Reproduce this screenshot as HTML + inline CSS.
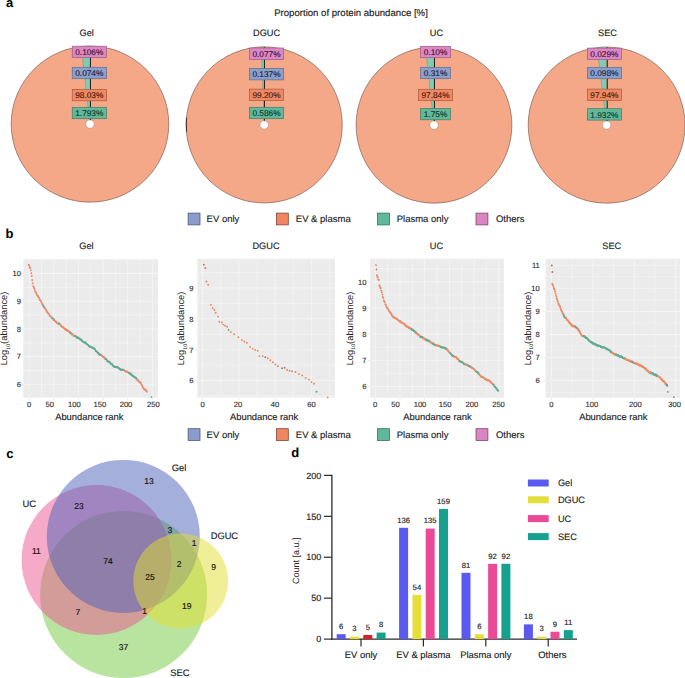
<!DOCTYPE html>
<html><head><meta charset="utf-8"><style>
html,body{margin:0;padding:0;background:#fff;}
svg{display:block;font-family:"Liberation Sans", sans-serif;text-rendering:geometricPrecision;}
</style></head><body>
<svg width="685" height="678" viewBox="0 0 685 678">
<rect width="685" height="678" fill="#fff"/>
<text x="6.00" y="7.40" font-size="13" text-anchor="start" font-weight="bold" fill="#000" >a</text>
<text x="351.00" y="15.70" font-size="9.6" text-anchor="middle" font-weight="normal" fill="#222"  stroke="#222" stroke-width="0.15">Proportion of protein abundance [%]</text>
<text x="86.70" y="36.00" font-size="9.2" text-anchor="middle" font-weight="normal" fill="#222"  stroke="#222" stroke-width="0.15">Gel</text>
<ellipse cx="90.0" cy="124.1" rx="78.8" ry="78.05" fill="#F5A887" stroke="#6a5048" stroke-width="0.6"/>
<path d="M90.0,124.1 L90.0,46.05 A78.8,78.05 0 0 0 81.14,46.54 Z" fill="#7FCDB0" stroke="#3d5a50" stroke-width="0.35" stroke-opacity="0.7"/>
<line x1="90.5" y1="124.1" x2="90.5" y2="46.349999999999994" stroke="#1e1e1e" stroke-width="0.95"/>
<rect x="72.24" y="46.20" width="34.13" height="11.4" fill="#DC88C2" stroke="#9A5A88" stroke-width="0.7"/>
<text x="89.30" y="55.00" font-size="8.3" text-anchor="middle" font-weight="normal" fill="#4A1038" stroke="#4A1038" stroke-width="0.15">0.106%</text>
<rect x="72.24" y="67.30" width="34.13" height="11.4" fill="#8C9FCB" stroke="#5F6C8C" stroke-width="0.7"/>
<text x="89.30" y="76.10" font-size="8.3" text-anchor="middle" font-weight="normal" fill="#1C2442" stroke="#1C2442" stroke-width="0.15">0.074%</text>
<rect x="72.24" y="89.40" width="34.13" height="11.4" fill="#EE8964" stroke="#A8583E" stroke-width="0.7"/>
<text x="89.30" y="98.20" font-size="8.3" text-anchor="middle" font-weight="normal" fill="#4A1A0E" stroke="#4A1A0E" stroke-width="0.15">98.03%</text>
<rect x="72.24" y="107.30" width="34.13" height="11.4" fill="#62B99A" stroke="#3F7D66" stroke-width="0.7"/>
<text x="89.30" y="116.10" font-size="8.3" text-anchor="middle" font-weight="normal" fill="#0E3A2A" stroke="#0E3A2A" stroke-width="0.15">1.793%</text>
<circle cx="90.0" cy="124.1" r="4.2" fill="#fff" stroke="#8a7a76" stroke-width="0.4"/>
<text x="266.60" y="36.00" font-size="9.2" text-anchor="middle" font-weight="normal" fill="#222"  stroke="#222" stroke-width="0.15">DGUC</text>
<ellipse cx="264.2" cy="124.9" rx="78.1" ry="78.05" fill="#F5A887" stroke="#6a5048" stroke-width="0.6"/>
<path d="M264.2,124.9 L264.2,46.85000000000001 A78.1,78.05 0 0 0 261.33,46.90 Z" fill="#7FCDB0" stroke="#3d5a50" stroke-width="0.35" stroke-opacity="0.7"/>
<line x1="264.5" y1="124.9" x2="264.5" y2="47.150000000000006" stroke="#1e1e1e" stroke-width="0.95"/>
<rect x="249.44" y="48.00" width="34.13" height="11.4" fill="#DC88C2" stroke="#9A5A88" stroke-width="0.7"/>
<text x="266.50" y="56.80" font-size="8.3" text-anchor="middle" font-weight="normal" fill="#4A1038" stroke="#4A1038" stroke-width="0.15">0.077%</text>
<rect x="249.44" y="68.50" width="34.13" height="11.4" fill="#8C9FCB" stroke="#5F6C8C" stroke-width="0.7"/>
<text x="266.50" y="77.30" font-size="8.3" text-anchor="middle" font-weight="normal" fill="#1C2442" stroke="#1C2442" stroke-width="0.15">0.137%</text>
<rect x="249.44" y="89.10" width="34.13" height="11.4" fill="#EE8964" stroke="#A8583E" stroke-width="0.7"/>
<text x="266.50" y="97.90" font-size="8.3" text-anchor="middle" font-weight="normal" fill="#4A1A0E" stroke="#4A1A0E" stroke-width="0.15">99.20%</text>
<rect x="249.44" y="107.30" width="34.13" height="11.4" fill="#62B99A" stroke="#3F7D66" stroke-width="0.7"/>
<text x="266.50" y="116.10" font-size="8.3" text-anchor="middle" font-weight="normal" fill="#0E3A2A" stroke="#0E3A2A" stroke-width="0.15">0.586%</text>
<circle cx="264.2" cy="124.9" r="4.2" fill="#fff" stroke="#8a7a76" stroke-width="0.4"/>
<text x="436.50" y="36.00" font-size="9.2" text-anchor="middle" font-weight="normal" fill="#222"  stroke="#222" stroke-width="0.15">UC</text>
<ellipse cx="434.0" cy="125.1" rx="77.9" ry="78.05" fill="#F5A887" stroke="#6a5048" stroke-width="0.6"/>
<path d="M434.0,125.1 L434.0,47.05 A77.9,78.05 0 0 0 425.45,47.52 Z" fill="#7FCDB0" stroke="#3d5a50" stroke-width="0.35" stroke-opacity="0.7"/>
<line x1="434.5" y1="125.1" x2="434.5" y2="47.349999999999994" stroke="#1e1e1e" stroke-width="0.95"/>
<rect x="420.66" y="46.30" width="29.68" height="11.4" fill="#DC88C2" stroke="#9A5A88" stroke-width="0.7"/>
<text x="435.50" y="55.10" font-size="8.3" text-anchor="middle" font-weight="normal" fill="#4A1038" stroke="#4A1038" stroke-width="0.15">0.10%</text>
<rect x="420.66" y="67.30" width="29.68" height="11.4" fill="#8C9FCB" stroke="#5F6C8C" stroke-width="0.7"/>
<text x="435.50" y="76.10" font-size="8.3" text-anchor="middle" font-weight="normal" fill="#1C2442" stroke="#1C2442" stroke-width="0.15">0.31%</text>
<rect x="418.44" y="89.30" width="34.13" height="11.4" fill="#EE8964" stroke="#A8583E" stroke-width="0.7"/>
<text x="435.50" y="98.10" font-size="8.3" text-anchor="middle" font-weight="normal" fill="#4A1A0E" stroke="#4A1A0E" stroke-width="0.15">97.84%</text>
<rect x="420.66" y="108.40" width="29.68" height="11.4" fill="#62B99A" stroke="#3F7D66" stroke-width="0.7"/>
<text x="435.50" y="117.20" font-size="8.3" text-anchor="middle" font-weight="normal" fill="#0E3A2A" stroke="#0E3A2A" stroke-width="0.15">1.75%</text>
<circle cx="434.0" cy="125.1" r="4.2" fill="#fff" stroke="#8a7a76" stroke-width="0.4"/>
<text x="607.50" y="36.00" font-size="9.2" text-anchor="middle" font-weight="normal" fill="#222"  stroke="#222" stroke-width="0.15">SEC</text>
<ellipse cx="606.6" cy="125.1" rx="78.4" ry="78.05" fill="#F5A887" stroke="#6a5048" stroke-width="0.6"/>
<path d="M606.6,125.1 L606.6,47.05 A78.4,78.05 0 0 0 597.11,47.62 Z" fill="#7FCDB0" stroke="#3d5a50" stroke-width="0.35" stroke-opacity="0.7"/>
<line x1="607.3" y1="125.1" x2="607.3" y2="47.349999999999994" stroke="#1e1e1e" stroke-width="0.95"/>
<rect x="587.34" y="48.10" width="34.13" height="11.4" fill="#DC88C2" stroke="#9A5A88" stroke-width="0.7"/>
<text x="604.40" y="56.90" font-size="8.3" text-anchor="middle" font-weight="normal" fill="#4A1038" stroke="#4A1038" stroke-width="0.15">0.029%</text>
<rect x="587.34" y="67.30" width="34.13" height="11.4" fill="#8C9FCB" stroke="#5F6C8C" stroke-width="0.7"/>
<text x="604.40" y="76.10" font-size="8.3" text-anchor="middle" font-weight="normal" fill="#1C2442" stroke="#1C2442" stroke-width="0.15">0.098%</text>
<rect x="587.34" y="89.10" width="34.13" height="11.4" fill="#EE8964" stroke="#A8583E" stroke-width="0.7"/>
<text x="604.40" y="97.90" font-size="8.3" text-anchor="middle" font-weight="normal" fill="#4A1A0E" stroke="#4A1A0E" stroke-width="0.15">97.94%</text>
<rect x="587.34" y="108.70" width="34.13" height="11.4" fill="#62B99A" stroke="#3F7D66" stroke-width="0.7"/>
<text x="604.40" y="117.50" font-size="8.3" text-anchor="middle" font-weight="normal" fill="#0E3A2A" stroke="#0E3A2A" stroke-width="0.15">1.932%</text>
<circle cx="606.6" cy="125.1" r="4.2" fill="#fff" stroke="#8a7a76" stroke-width="0.4"/>
<path d="M186.6,117.6 Q186.1,124.6 186.6,131.7" stroke="#4a2a22" stroke-width="1" fill="none"/>
<rect x="188.1" y="213.10000000000002" width="11.9" height="11.8" fill="#8A9CCB" stroke="#4b5570" stroke-width="0.75"/>
<text x="206.60" y="222.30" font-size="9.5" text-anchor="start" font-weight="normal" fill="#222"  stroke="#222" stroke-width="0.15">EV only</text>
<rect x="276.4" y="213.10000000000002" width="11.9" height="11.8" fill="#EE8660" stroke="#7a4030" stroke-width="0.75"/>
<text x="295.80" y="222.30" font-size="9.5" text-anchor="start" font-weight="normal" fill="#222"  stroke="#222" stroke-width="0.15">EV &amp; plasma</text>
<rect x="377.5" y="213.10000000000002" width="11.9" height="11.8" fill="#5FB999" stroke="#2f6a55" stroke-width="0.75"/>
<text x="396.70" y="222.30" font-size="9.5" text-anchor="start" font-weight="normal" fill="#222"  stroke="#222" stroke-width="0.15">Plasma only</text>
<rect x="476.0" y="213.10000000000002" width="11.9" height="11.8" fill="#D887C0" stroke="#7a4068" stroke-width="0.75"/>
<text x="495.90" y="222.30" font-size="9.5" text-anchor="start" font-weight="normal" fill="#222"  stroke="#222" stroke-width="0.15">Others</text>
<text x="5.40" y="237.60" font-size="13" text-anchor="start" font-weight="bold" fill="#000" >b</text>
<rect x="23.3" y="258.9" width="134.70" height="138.80" fill="#EBEBEB"/>
<line x1="41.51" y1="258.9" x2="41.51" y2="397.7" stroke="#fff" stroke-width="0.7" stroke-opacity="0.5"/>
<line x1="66.13" y1="258.9" x2="66.13" y2="397.7" stroke="#fff" stroke-width="0.7" stroke-opacity="0.5"/>
<line x1="90.75" y1="258.9" x2="90.75" y2="397.7" stroke="#fff" stroke-width="0.7" stroke-opacity="0.5"/>
<line x1="115.37" y1="258.9" x2="115.37" y2="397.7" stroke="#fff" stroke-width="0.7" stroke-opacity="0.5"/>
<line x1="139.99" y1="258.9" x2="139.99" y2="397.7" stroke="#fff" stroke-width="0.7" stroke-opacity="0.5"/>
<line x1="23.3" y1="398.24" x2="158.0" y2="398.24" stroke="#fff" stroke-width="0.7" stroke-opacity="0.5"/>
<line x1="23.3" y1="370.52" x2="158.0" y2="370.52" stroke="#fff" stroke-width="0.7" stroke-opacity="0.5"/>
<line x1="23.3" y1="342.80" x2="158.0" y2="342.80" stroke="#fff" stroke-width="0.7" stroke-opacity="0.5"/>
<line x1="23.3" y1="315.08" x2="158.0" y2="315.08" stroke="#fff" stroke-width="0.7" stroke-opacity="0.5"/>
<line x1="23.3" y1="287.36" x2="158.0" y2="287.36" stroke="#fff" stroke-width="0.7" stroke-opacity="0.5"/>
<line x1="23.3" y1="259.64" x2="158.0" y2="259.64" stroke="#fff" stroke-width="0.7" stroke-opacity="0.5"/>
<line x1="29.20" y1="258.9" x2="29.20" y2="397.7" stroke="#fff" stroke-width="0.8" stroke-opacity="0.55"/>
<line x1="53.82" y1="258.9" x2="53.82" y2="397.7" stroke="#fff" stroke-width="0.8" stroke-opacity="0.55"/>
<line x1="78.44" y1="258.9" x2="78.44" y2="397.7" stroke="#fff" stroke-width="0.8" stroke-opacity="0.55"/>
<line x1="103.06" y1="258.9" x2="103.06" y2="397.7" stroke="#fff" stroke-width="0.8" stroke-opacity="0.55"/>
<line x1="127.68" y1="258.9" x2="127.68" y2="397.7" stroke="#fff" stroke-width="0.8" stroke-opacity="0.55"/>
<line x1="152.30" y1="258.9" x2="152.30" y2="397.7" stroke="#fff" stroke-width="0.8" stroke-opacity="0.55"/>
<line x1="23.3" y1="384.38" x2="158.0" y2="384.38" stroke="#fff" stroke-width="0.8" stroke-opacity="0.55"/>
<line x1="23.3" y1="356.66" x2="158.0" y2="356.66" stroke="#fff" stroke-width="0.8" stroke-opacity="0.55"/>
<line x1="23.3" y1="328.94" x2="158.0" y2="328.94" stroke="#fff" stroke-width="0.8" stroke-opacity="0.55"/>
<line x1="23.3" y1="301.22" x2="158.0" y2="301.22" stroke="#fff" stroke-width="0.8" stroke-opacity="0.55"/>
<line x1="23.3" y1="273.50" x2="158.0" y2="273.50" stroke="#fff" stroke-width="0.8" stroke-opacity="0.55"/>
<line x1="29.20" y1="397.7" x2="29.20" y2="400.09999999999997" stroke="#ccc" stroke-width="0.35"/>
<line x1="53.82" y1="397.7" x2="53.82" y2="400.09999999999997" stroke="#ccc" stroke-width="0.35"/>
<line x1="78.44" y1="397.7" x2="78.44" y2="400.09999999999997" stroke="#ccc" stroke-width="0.35"/>
<line x1="103.06" y1="397.7" x2="103.06" y2="400.09999999999997" stroke="#ccc" stroke-width="0.35"/>
<line x1="127.68" y1="397.7" x2="127.68" y2="400.09999999999997" stroke="#ccc" stroke-width="0.35"/>
<line x1="152.30" y1="397.7" x2="152.30" y2="400.09999999999997" stroke="#ccc" stroke-width="0.35"/>
<line x1="20.900000000000002" y1="384.38" x2="23.3" y2="384.38" stroke="#ccc" stroke-width="0.35"/>
<line x1="20.900000000000002" y1="356.66" x2="23.3" y2="356.66" stroke="#ccc" stroke-width="0.35"/>
<line x1="20.900000000000002" y1="328.94" x2="23.3" y2="328.94" stroke="#ccc" stroke-width="0.35"/>
<line x1="20.900000000000002" y1="301.22" x2="23.3" y2="301.22" stroke="#ccc" stroke-width="0.35"/>
<line x1="20.900000000000002" y1="273.50" x2="23.3" y2="273.50" stroke="#ccc" stroke-width="0.35"/>
<text x="29.20" y="406.90" font-size="7.6" text-anchor="middle" font-weight="normal" fill="#333"  stroke="#333" stroke-width="0.15">0</text>
<text x="49.80" y="406.90" font-size="7.6" text-anchor="middle" font-weight="normal" fill="#333"  stroke="#333" stroke-width="0.15">50</text>
<text x="74.30" y="406.90" font-size="7.6" text-anchor="middle" font-weight="normal" fill="#333"  stroke="#333" stroke-width="0.15">100</text>
<text x="99.80" y="406.90" font-size="7.6" text-anchor="middle" font-weight="normal" fill="#333"  stroke="#333" stroke-width="0.15">150</text>
<text x="126.00" y="406.90" font-size="7.6" text-anchor="middle" font-weight="normal" fill="#333"  stroke="#333" stroke-width="0.15">200</text>
<text x="153.30" y="406.90" font-size="7.6" text-anchor="middle" font-weight="normal" fill="#333"  stroke="#333" stroke-width="0.15">250</text>
<text x="21.00" y="387.13" font-size="7.6" text-anchor="end" font-weight="normal" fill="#333"  stroke="#333" stroke-width="0.15">6</text>
<text x="21.00" y="359.41" font-size="7.6" text-anchor="end" font-weight="normal" fill="#333"  stroke="#333" stroke-width="0.15">7</text>
<text x="21.00" y="331.69" font-size="7.6" text-anchor="end" font-weight="normal" fill="#333"  stroke="#333" stroke-width="0.15">8</text>
<text x="21.00" y="303.97" font-size="7.6" text-anchor="end" font-weight="normal" fill="#333"  stroke="#333" stroke-width="0.15">9</text>
<text x="21.00" y="276.25" font-size="7.6" text-anchor="end" font-weight="normal" fill="#333"  stroke="#333" stroke-width="0.15">10</text>
<text x="86.50" y="248.80" font-size="9.2" text-anchor="middle" font-weight="normal" fill="#222"  stroke="#222" stroke-width="0.15">Gel</text>
<text x="89.30" y="419.60" font-size="9.4" text-anchor="middle" font-weight="normal" fill="#222"  stroke="#222" stroke-width="0.15">Abundance rank</text>
<text transform="translate(7.2,328.5) rotate(-90)" font-size="9.3" text-anchor="middle" fill="#222">Log<tspan font-size="5.3" dy="2.6">10</tspan><tspan dy="-2.6">(abundance)</tspan></text>
<circle cx="28.80" cy="264.79" r="0.95" fill="#E98D6B"/>
<circle cx="29.29" cy="265.73" r="0.95" fill="#E98D6B"/>
<circle cx="29.79" cy="267.49" r="0.95" fill="#E98D6B"/>
<circle cx="30.28" cy="267.95" r="0.95" fill="#E98D6B"/>
<circle cx="30.78" cy="270.36" r="0.95" fill="#E98D6B"/>
<circle cx="31.27" cy="273.29" r="0.95" fill="#E98D6B"/>
<circle cx="31.76" cy="276.05" r="0.95" fill="#E98D6B"/>
<circle cx="32.26" cy="280.02" r="0.95" fill="#E98D6B"/>
<circle cx="32.75" cy="283.21" r="0.95" fill="#E98D6B"/>
<circle cx="33.25" cy="286.23" r="0.95" fill="#E98D6B"/>
<circle cx="33.74" cy="287.00" r="0.95" fill="#E98D6B"/>
<circle cx="34.24" cy="288.23" r="0.95" fill="#E98D6B"/>
<circle cx="34.73" cy="289.84" r="0.95" fill="#E98D6B"/>
<circle cx="35.22" cy="291.54" r="0.95" fill="#E98D6B"/>
<circle cx="35.72" cy="291.90" r="0.95" fill="#E98D6B"/>
<circle cx="36.21" cy="292.96" r="0.95" fill="#E98D6B"/>
<circle cx="36.71" cy="294.22" r="0.95" fill="#E98D6B"/>
<circle cx="37.20" cy="295.37" r="0.95" fill="#E98D6B"/>
<circle cx="37.69" cy="295.70" r="0.95" fill="#E98D6B"/>
<circle cx="38.19" cy="296.26" r="0.95" fill="#E98D6B"/>
<circle cx="38.68" cy="297.73" r="0.95" fill="#E98D6B"/>
<circle cx="39.18" cy="297.59" r="0.95" fill="#E98D6B"/>
<circle cx="39.67" cy="299.68" r="0.95" fill="#E98D6B"/>
<circle cx="40.17" cy="300.04" r="0.95" fill="#E98D6B"/>
<circle cx="40.66" cy="300.72" r="0.95" fill="#E98D6B"/>
<circle cx="41.15" cy="301.55" r="0.95" fill="#E98D6B"/>
<circle cx="41.65" cy="302.64" r="0.95" fill="#E98D6B"/>
<circle cx="42.14" cy="304.11" r="0.95" fill="#E98D6B"/>
<circle cx="42.64" cy="304.21" r="0.95" fill="#E98D6B"/>
<circle cx="43.13" cy="305.55" r="0.95" fill="#64AA90"/>
<circle cx="43.62" cy="306.48" r="0.95" fill="#64AA90"/>
<circle cx="44.12" cy="306.99" r="0.95" fill="#64AA90"/>
<circle cx="44.61" cy="308.04" r="0.95" fill="#E98D6B"/>
<circle cx="45.11" cy="308.29" r="0.95" fill="#E98D6B"/>
<circle cx="45.60" cy="309.13" r="0.95" fill="#E98D6B"/>
<circle cx="46.09" cy="310.14" r="0.95" fill="#E98D6B"/>
<circle cx="46.59" cy="311.39" r="0.95" fill="#E98D6B"/>
<circle cx="47.08" cy="311.76" r="0.95" fill="#E98D6B"/>
<circle cx="47.58" cy="312.30" r="0.95" fill="#E98D6B"/>
<circle cx="48.07" cy="313.31" r="0.95" fill="#E98D6B"/>
<circle cx="48.57" cy="313.83" r="0.95" fill="#E98D6B"/>
<circle cx="49.06" cy="314.32" r="0.95" fill="#E98D6B"/>
<circle cx="49.55" cy="315.59" r="0.95" fill="#E98D6B"/>
<circle cx="50.05" cy="315.99" r="0.95" fill="#E98D6B"/>
<circle cx="50.54" cy="315.94" r="0.95" fill="#E98D6B"/>
<circle cx="51.04" cy="316.83" r="0.95" fill="#E98D6B"/>
<circle cx="51.53" cy="317.26" r="0.95" fill="#E98D6B"/>
<circle cx="52.02" cy="318.17" r="0.95" fill="#E98D6B"/>
<circle cx="52.52" cy="318.49" r="0.95" fill="#64AA90"/>
<circle cx="53.01" cy="318.46" r="0.95" fill="#64AA90"/>
<circle cx="53.51" cy="319.84" r="0.95" fill="#64AA90"/>
<circle cx="54.00" cy="319.37" r="0.95" fill="#E98D6B"/>
<circle cx="54.50" cy="320.30" r="0.95" fill="#E98D6B"/>
<circle cx="54.99" cy="321.27" r="0.95" fill="#E98D6B"/>
<circle cx="55.48" cy="321.11" r="0.95" fill="#E98D6B"/>
<circle cx="55.98" cy="322.08" r="0.95" fill="#E98D6B"/>
<circle cx="56.47" cy="322.10" r="0.95" fill="#E98D6B"/>
<circle cx="56.97" cy="323.11" r="0.95" fill="#E98D6B"/>
<circle cx="57.46" cy="323.37" r="0.95" fill="#E98D6B"/>
<circle cx="57.95" cy="323.29" r="0.95" fill="#E98D6B"/>
<circle cx="58.45" cy="323.80" r="0.95" fill="#E98D6B"/>
<circle cx="58.94" cy="323.27" r="0.95" fill="#64AA90"/>
<circle cx="59.44" cy="323.98" r="0.95" fill="#64AA90"/>
<circle cx="59.93" cy="324.37" r="0.95" fill="#64AA90"/>
<circle cx="60.43" cy="324.86" r="0.95" fill="#E98D6B"/>
<circle cx="60.92" cy="325.23" r="0.95" fill="#E98D6B"/>
<circle cx="61.41" cy="326.20" r="0.95" fill="#E98D6B"/>
<circle cx="61.91" cy="326.84" r="0.95" fill="#E98D6B"/>
<circle cx="62.40" cy="326.67" r="0.95" fill="#E98D6B"/>
<circle cx="62.90" cy="327.29" r="0.95" fill="#E98D6B"/>
<circle cx="63.39" cy="326.96" r="0.95" fill="#E98D6B"/>
<circle cx="63.88" cy="328.12" r="0.95" fill="#E98D6B"/>
<circle cx="64.38" cy="328.45" r="0.95" fill="#E98D6B"/>
<circle cx="64.87" cy="329.26" r="0.95" fill="#E98D6B"/>
<circle cx="65.37" cy="329.44" r="0.95" fill="#E98D6B"/>
<circle cx="65.86" cy="329.19" r="0.95" fill="#E98D6B"/>
<circle cx="66.35" cy="329.71" r="0.95" fill="#E98D6B"/>
<circle cx="66.85" cy="330.44" r="0.95" fill="#E98D6B"/>
<circle cx="67.34" cy="330.06" r="0.95" fill="#E98D6B"/>
<circle cx="67.84" cy="330.98" r="0.95" fill="#E98D6B"/>
<circle cx="68.33" cy="331.02" r="0.95" fill="#E98D6B"/>
<circle cx="68.83" cy="331.35" r="0.95" fill="#E98D6B"/>
<circle cx="69.32" cy="331.67" r="0.95" fill="#E98D6B"/>
<circle cx="69.81" cy="332.92" r="0.95" fill="#E98D6B"/>
<circle cx="70.31" cy="332.54" r="0.95" fill="#64AA90"/>
<circle cx="70.80" cy="333.06" r="0.95" fill="#64AA90"/>
<circle cx="71.30" cy="333.56" r="0.95" fill="#64AA90"/>
<circle cx="71.79" cy="334.46" r="0.95" fill="#E98D6B"/>
<circle cx="72.28" cy="333.83" r="0.95" fill="#E98D6B"/>
<circle cx="72.78" cy="334.60" r="0.95" fill="#E98D6B"/>
<circle cx="73.27" cy="335.04" r="0.95" fill="#E98D6B"/>
<circle cx="73.77" cy="335.75" r="0.95" fill="#E98D6B"/>
<circle cx="74.26" cy="335.97" r="0.95" fill="#E98D6B"/>
<circle cx="74.76" cy="336.33" r="0.95" fill="#E98D6B"/>
<circle cx="75.25" cy="335.93" r="0.95" fill="#64AA90"/>
<circle cx="75.74" cy="336.40" r="0.95" fill="#64AA90"/>
<circle cx="76.24" cy="336.63" r="0.95" fill="#64AA90"/>
<circle cx="76.73" cy="337.57" r="0.95" fill="#64AA90"/>
<circle cx="77.23" cy="337.96" r="0.95" fill="#64AA90"/>
<circle cx="77.72" cy="337.30" r="0.95" fill="#64AA90"/>
<circle cx="78.21" cy="337.67" r="0.95" fill="#64AA90"/>
<circle cx="78.71" cy="338.09" r="0.95" fill="#64AA90"/>
<circle cx="79.20" cy="338.44" r="0.95" fill="#64AA90"/>
<circle cx="79.70" cy="339.09" r="0.95" fill="#64AA90"/>
<circle cx="80.19" cy="339.56" r="0.95" fill="#64AA90"/>
<circle cx="80.68" cy="339.52" r="0.95" fill="#64AA90"/>
<circle cx="81.18" cy="339.56" r="0.95" fill="#64AA90"/>
<circle cx="81.67" cy="340.40" r="0.95" fill="#64AA90"/>
<circle cx="82.17" cy="340.69" r="0.95" fill="#64AA90"/>
<circle cx="82.66" cy="341.28" r="0.95" fill="#64AA90"/>
<circle cx="83.16" cy="342.09" r="0.95" fill="#64AA90"/>
<circle cx="83.65" cy="342.12" r="0.95" fill="#64AA90"/>
<circle cx="84.14" cy="342.20" r="0.95" fill="#64AA90"/>
<circle cx="84.64" cy="342.57" r="0.95" fill="#64AA90"/>
<circle cx="85.13" cy="342.90" r="0.95" fill="#64AA90"/>
<circle cx="85.63" cy="342.40" r="0.95" fill="#64AA90"/>
<circle cx="86.12" cy="343.67" r="0.95" fill="#64AA90"/>
<circle cx="86.61" cy="343.78" r="0.95" fill="#64AA90"/>
<circle cx="87.11" cy="344.15" r="0.95" fill="#64AA90"/>
<circle cx="87.60" cy="344.62" r="0.95" fill="#64AA90"/>
<circle cx="88.10" cy="344.89" r="0.95" fill="#64AA90"/>
<circle cx="88.59" cy="345.65" r="0.95" fill="#64AA90"/>
<circle cx="89.09" cy="345.97" r="0.95" fill="#64AA90"/>
<circle cx="89.58" cy="346.85" r="0.95" fill="#64AA90"/>
<circle cx="90.07" cy="346.40" r="0.95" fill="#64AA90"/>
<circle cx="90.57" cy="346.65" r="0.95" fill="#64AA90"/>
<circle cx="91.06" cy="347.06" r="0.95" fill="#64AA90"/>
<circle cx="91.56" cy="347.25" r="0.95" fill="#64AA90"/>
<circle cx="92.05" cy="347.70" r="0.95" fill="#64AA90"/>
<circle cx="92.54" cy="347.60" r="0.95" fill="#64AA90"/>
<circle cx="93.04" cy="347.78" r="0.95" fill="#64AA90"/>
<circle cx="93.53" cy="348.21" r="0.95" fill="#64AA90"/>
<circle cx="94.03" cy="348.39" r="0.95" fill="#64AA90"/>
<circle cx="94.52" cy="349.09" r="0.95" fill="#64AA90"/>
<circle cx="95.02" cy="349.25" r="0.95" fill="#64AA90"/>
<circle cx="95.51" cy="350.84" r="0.95" fill="#64AA90"/>
<circle cx="96.00" cy="351.10" r="0.95" fill="#64AA90"/>
<circle cx="96.50" cy="351.11" r="0.95" fill="#64AA90"/>
<circle cx="96.99" cy="351.80" r="0.95" fill="#64AA90"/>
<circle cx="97.49" cy="352.49" r="0.95" fill="#64AA90"/>
<circle cx="97.98" cy="352.91" r="0.95" fill="#64AA90"/>
<circle cx="98.47" cy="352.97" r="0.95" fill="#64AA90"/>
<circle cx="98.97" cy="354.19" r="0.95" fill="#64AA90"/>
<circle cx="99.46" cy="354.72" r="0.95" fill="#64AA90"/>
<circle cx="99.96" cy="354.44" r="0.95" fill="#64AA90"/>
<circle cx="100.45" cy="354.81" r="0.95" fill="#64AA90"/>
<circle cx="100.94" cy="354.68" r="0.95" fill="#64AA90"/>
<circle cx="101.44" cy="355.05" r="0.95" fill="#E98D6B"/>
<circle cx="101.93" cy="355.69" r="0.95" fill="#E98D6B"/>
<circle cx="102.43" cy="355.95" r="0.95" fill="#E98D6B"/>
<circle cx="102.92" cy="357.00" r="0.95" fill="#E98D6B"/>
<circle cx="103.42" cy="356.65" r="0.95" fill="#E98D6B"/>
<circle cx="103.91" cy="356.93" r="0.95" fill="#E98D6B"/>
<circle cx="104.40" cy="358.48" r="0.95" fill="#E98D6B"/>
<circle cx="104.90" cy="358.42" r="0.95" fill="#E98D6B"/>
<circle cx="105.39" cy="358.41" r="0.95" fill="#64AA90"/>
<circle cx="105.89" cy="359.33" r="0.95" fill="#64AA90"/>
<circle cx="106.38" cy="359.15" r="0.95" fill="#64AA90"/>
<circle cx="106.87" cy="360.20" r="0.95" fill="#64AA90"/>
<circle cx="107.37" cy="361.16" r="0.95" fill="#64AA90"/>
<circle cx="107.86" cy="361.44" r="0.95" fill="#64AA90"/>
<circle cx="108.36" cy="361.65" r="0.95" fill="#64AA90"/>
<circle cx="108.85" cy="361.55" r="0.95" fill="#64AA90"/>
<circle cx="109.35" cy="362.09" r="0.95" fill="#64AA90"/>
<circle cx="109.84" cy="362.27" r="0.95" fill="#64AA90"/>
<circle cx="110.33" cy="363.42" r="0.95" fill="#64AA90"/>
<circle cx="110.83" cy="363.54" r="0.95" fill="#64AA90"/>
<circle cx="111.32" cy="364.23" r="0.95" fill="#64AA90"/>
<circle cx="111.82" cy="364.09" r="0.95" fill="#64AA90"/>
<circle cx="112.31" cy="364.36" r="0.95" fill="#64AA90"/>
<circle cx="112.80" cy="365.46" r="0.95" fill="#64AA90"/>
<circle cx="113.30" cy="366.06" r="0.95" fill="#64AA90"/>
<circle cx="113.79" cy="366.30" r="0.95" fill="#64AA90"/>
<circle cx="114.29" cy="366.64" r="0.95" fill="#64AA90"/>
<circle cx="114.78" cy="367.02" r="0.95" fill="#64AA90"/>
<circle cx="115.27" cy="367.13" r="0.95" fill="#64AA90"/>
<circle cx="115.77" cy="366.72" r="0.95" fill="#64AA90"/>
<circle cx="116.26" cy="367.27" r="0.95" fill="#64AA90"/>
<circle cx="116.76" cy="367.29" r="0.95" fill="#64AA90"/>
<circle cx="117.25" cy="367.10" r="0.95" fill="#64AA90"/>
<circle cx="117.75" cy="367.31" r="0.95" fill="#64AA90"/>
<circle cx="118.24" cy="367.81" r="0.95" fill="#64AA90"/>
<circle cx="118.73" cy="368.00" r="0.95" fill="#64AA90"/>
<circle cx="119.23" cy="368.72" r="0.95" fill="#64AA90"/>
<circle cx="119.72" cy="369.25" r="0.95" fill="#64AA90"/>
<circle cx="120.22" cy="368.84" r="0.95" fill="#64AA90"/>
<circle cx="120.71" cy="369.64" r="0.95" fill="#64AA90"/>
<circle cx="121.20" cy="369.90" r="0.95" fill="#64AA90"/>
<circle cx="121.70" cy="370.07" r="0.95" fill="#64AA90"/>
<circle cx="122.19" cy="369.57" r="0.95" fill="#64AA90"/>
<circle cx="122.69" cy="369.60" r="0.95" fill="#64AA90"/>
<circle cx="123.18" cy="369.80" r="0.95" fill="#64AA90"/>
<circle cx="123.68" cy="369.95" r="0.95" fill="#64AA90"/>
<circle cx="124.17" cy="370.15" r="0.95" fill="#E98D6B"/>
<circle cx="124.66" cy="370.84" r="0.95" fill="#E98D6B"/>
<circle cx="125.16" cy="371.36" r="0.95" fill="#E98D6B"/>
<circle cx="125.65" cy="371.48" r="0.95" fill="#E98D6B"/>
<circle cx="126.15" cy="371.24" r="0.95" fill="#E98D6B"/>
<circle cx="126.64" cy="371.64" r="0.95" fill="#E98D6B"/>
<circle cx="127.13" cy="372.00" r="0.95" fill="#E98D6B"/>
<circle cx="127.63" cy="371.34" r="0.95" fill="#E98D6B"/>
<circle cx="128.12" cy="372.33" r="0.95" fill="#E98D6B"/>
<circle cx="128.62" cy="372.99" r="0.95" fill="#E98D6B"/>
<circle cx="129.11" cy="373.20" r="0.95" fill="#64AA90"/>
<circle cx="129.61" cy="373.53" r="0.95" fill="#64AA90"/>
<circle cx="130.10" cy="373.57" r="0.95" fill="#64AA90"/>
<circle cx="130.59" cy="373.57" r="0.95" fill="#64AA90"/>
<circle cx="131.09" cy="374.67" r="0.95" fill="#64AA90"/>
<circle cx="131.58" cy="374.48" r="0.95" fill="#64AA90"/>
<circle cx="132.08" cy="375.41" r="0.95" fill="#64AA90"/>
<circle cx="132.57" cy="375.98" r="0.95" fill="#64AA90"/>
<circle cx="133.06" cy="375.65" r="0.95" fill="#64AA90"/>
<circle cx="133.56" cy="376.09" r="0.95" fill="#64AA90"/>
<circle cx="134.05" cy="377.18" r="0.95" fill="#64AA90"/>
<circle cx="134.55" cy="377.35" r="0.95" fill="#64AA90"/>
<circle cx="135.04" cy="377.12" r="0.95" fill="#64AA90"/>
<circle cx="135.53" cy="377.51" r="0.95" fill="#64AA90"/>
<circle cx="136.03" cy="377.97" r="0.95" fill="#64AA90"/>
<circle cx="136.52" cy="379.31" r="0.95" fill="#64AA90"/>
<circle cx="137.02" cy="379.63" r="0.95" fill="#E98D6B"/>
<circle cx="137.51" cy="379.28" r="0.95" fill="#E98D6B"/>
<circle cx="138.01" cy="380.53" r="0.95" fill="#E98D6B"/>
<circle cx="138.50" cy="381.22" r="0.95" fill="#E98D6B"/>
<circle cx="138.99" cy="381.43" r="0.95" fill="#E98D6B"/>
<circle cx="139.49" cy="381.66" r="0.95" fill="#E98D6B"/>
<circle cx="139.98" cy="382.50" r="0.95" fill="#E98D6B"/>
<circle cx="140.48" cy="382.59" r="0.95" fill="#E98D6B"/>
<circle cx="140.97" cy="383.05" r="0.95" fill="#E98D6B"/>
<circle cx="141.46" cy="384.80" r="0.95" fill="#E98D6B"/>
<circle cx="141.96" cy="385.28" r="0.95" fill="#E98D6B"/>
<circle cx="142.45" cy="386.09" r="0.95" fill="#E98D6B"/>
<circle cx="142.95" cy="387.55" r="0.95" fill="#E98D6B"/>
<circle cx="143.44" cy="387.91" r="0.95" fill="#E98D6B"/>
<circle cx="143.94" cy="389.08" r="0.95" fill="#E98D6B"/>
<circle cx="144.43" cy="389.52" r="0.95" fill="#E98D6B"/>
<circle cx="144.92" cy="389.28" r="0.95" fill="#E98D6B"/>
<circle cx="145.42" cy="389.82" r="0.95" fill="#E98D6B"/>
<circle cx="145.91" cy="390.36" r="0.95" fill="#E98D6B"/>
<circle cx="146.41" cy="390.79" r="0.95" fill="#E98D6B"/>
<circle cx="146.90" cy="391.70" r="0.95" fill="#E98D6B"/>
<circle cx="151.50" cy="397.00" r="0.85" fill="#7D8A96"/>
<rect x="197.4" y="258.9" width="137.60" height="138.70" fill="#EBEBEB"/>
<line x1="220.73" y1="258.9" x2="220.73" y2="397.6" stroke="#fff" stroke-width="0.7" stroke-opacity="0.5"/>
<line x1="256.99" y1="258.9" x2="256.99" y2="397.6" stroke="#fff" stroke-width="0.7" stroke-opacity="0.5"/>
<line x1="293.25" y1="258.9" x2="293.25" y2="397.6" stroke="#fff" stroke-width="0.7" stroke-opacity="0.5"/>
<line x1="329.51" y1="258.9" x2="329.51" y2="397.6" stroke="#fff" stroke-width="0.7" stroke-opacity="0.5"/>
<line x1="197.4" y1="396.15" x2="335.0" y2="396.15" stroke="#fff" stroke-width="0.7" stroke-opacity="0.5"/>
<line x1="197.4" y1="365.22" x2="335.0" y2="365.22" stroke="#fff" stroke-width="0.7" stroke-opacity="0.5"/>
<line x1="197.4" y1="334.29" x2="335.0" y2="334.29" stroke="#fff" stroke-width="0.7" stroke-opacity="0.5"/>
<line x1="197.4" y1="303.36" x2="335.0" y2="303.36" stroke="#fff" stroke-width="0.7" stroke-opacity="0.5"/>
<line x1="197.4" y1="272.44" x2="335.0" y2="272.44" stroke="#fff" stroke-width="0.7" stroke-opacity="0.5"/>
<line x1="202.60" y1="258.9" x2="202.60" y2="397.6" stroke="#fff" stroke-width="0.8" stroke-opacity="0.55"/>
<line x1="238.86" y1="258.9" x2="238.86" y2="397.6" stroke="#fff" stroke-width="0.8" stroke-opacity="0.55"/>
<line x1="275.12" y1="258.9" x2="275.12" y2="397.6" stroke="#fff" stroke-width="0.8" stroke-opacity="0.55"/>
<line x1="311.38" y1="258.9" x2="311.38" y2="397.6" stroke="#fff" stroke-width="0.8" stroke-opacity="0.55"/>
<line x1="197.4" y1="380.69" x2="335.0" y2="380.69" stroke="#fff" stroke-width="0.8" stroke-opacity="0.55"/>
<line x1="197.4" y1="349.76" x2="335.0" y2="349.76" stroke="#fff" stroke-width="0.8" stroke-opacity="0.55"/>
<line x1="197.4" y1="318.83" x2="335.0" y2="318.83" stroke="#fff" stroke-width="0.8" stroke-opacity="0.55"/>
<line x1="197.4" y1="287.90" x2="335.0" y2="287.90" stroke="#fff" stroke-width="0.8" stroke-opacity="0.55"/>
<line x1="202.60" y1="397.6" x2="202.60" y2="400.0" stroke="#ccc" stroke-width="0.35"/>
<line x1="238.86" y1="397.6" x2="238.86" y2="400.0" stroke="#ccc" stroke-width="0.35"/>
<line x1="275.12" y1="397.6" x2="275.12" y2="400.0" stroke="#ccc" stroke-width="0.35"/>
<line x1="311.38" y1="397.6" x2="311.38" y2="400.0" stroke="#ccc" stroke-width="0.35"/>
<line x1="195.0" y1="380.69" x2="197.4" y2="380.69" stroke="#ccc" stroke-width="0.35"/>
<line x1="195.0" y1="349.76" x2="197.4" y2="349.76" stroke="#ccc" stroke-width="0.35"/>
<line x1="195.0" y1="318.83" x2="197.4" y2="318.83" stroke="#ccc" stroke-width="0.35"/>
<line x1="195.0" y1="287.90" x2="197.4" y2="287.90" stroke="#ccc" stroke-width="0.35"/>
<text x="202.60" y="406.90" font-size="7.6" text-anchor="middle" font-weight="normal" fill="#333"  stroke="#333" stroke-width="0.15">0</text>
<text x="237.90" y="406.90" font-size="7.6" text-anchor="middle" font-weight="normal" fill="#333"  stroke="#333" stroke-width="0.15">20</text>
<text x="274.90" y="406.90" font-size="7.6" text-anchor="middle" font-weight="normal" fill="#333"  stroke="#333" stroke-width="0.15">40</text>
<text x="311.40" y="406.90" font-size="7.6" text-anchor="middle" font-weight="normal" fill="#333"  stroke="#333" stroke-width="0.15">60</text>
<text x="193.60" y="383.44" font-size="7.6" text-anchor="end" font-weight="normal" fill="#333"  stroke="#333" stroke-width="0.15">6</text>
<text x="193.60" y="352.51" font-size="7.6" text-anchor="end" font-weight="normal" fill="#333"  stroke="#333" stroke-width="0.15">7</text>
<text x="193.60" y="321.58" font-size="7.6" text-anchor="end" font-weight="normal" fill="#333"  stroke="#333" stroke-width="0.15">8</text>
<text x="193.60" y="290.65" font-size="7.6" text-anchor="end" font-weight="normal" fill="#333"  stroke="#333" stroke-width="0.15">9</text>
<text x="266.00" y="248.80" font-size="9.2" text-anchor="middle" font-weight="normal" fill="#222"  stroke="#222" stroke-width="0.15">DGUC</text>
<text x="264.10" y="419.60" font-size="9.4" text-anchor="middle" font-weight="normal" fill="#222"  stroke="#222" stroke-width="0.15">Abundance rank</text>
<text transform="translate(184.3,328.5) rotate(-90)" font-size="9.3" text-anchor="middle" fill="#222">Log<tspan font-size="5.3" dy="2.6">10</tspan><tspan dy="-2.6">(abundance)</tspan></text>
<circle cx="203.80" cy="264.70" r="0.95" fill="#C87358"/>
<circle cx="205.40" cy="268.00" r="0.95" fill="#C87358"/>
<circle cx="206.40" cy="281.50" r="0.95" fill="#EC8A64"/>
<circle cx="208.20" cy="284.70" r="0.95" fill="#EC8A64"/>
<circle cx="210.90" cy="304.80" r="0.95" fill="#EC8A64"/>
<circle cx="212.70" cy="308.30" r="0.95" fill="#EC8A64"/>
<circle cx="214.50" cy="309.90" r="0.95" fill="#EC8A64"/>
<circle cx="215.60" cy="312.80" r="0.95" fill="#EC8A64"/>
<circle cx="218.00" cy="316.60" r="0.95" fill="#EC8A64"/>
<circle cx="219.40" cy="321.70" r="0.95" fill="#EC8A64"/>
<circle cx="221.90" cy="322.50" r="0.95" fill="#EC8A64"/>
<circle cx="223.30" cy="324.60" r="0.95" fill="#EC8A64"/>
<circle cx="225.10" cy="325.80" r="0.95" fill="#EC8A64"/>
<circle cx="227.10" cy="326.70" r="0.95" fill="#EC8A64"/>
<circle cx="228.60" cy="330.00" r="0.95" fill="#64AA90"/>
<circle cx="230.90" cy="332.10" r="0.95" fill="#EC8A64"/>
<circle cx="234.20" cy="334.30" r="0.95" fill="#EC8A64"/>
<circle cx="238.40" cy="337.30" r="0.95" fill="#EC8A64"/>
<circle cx="241.80" cy="340.10" r="0.95" fill="#EC8A64"/>
<circle cx="244.30" cy="341.50" r="0.95" fill="#EC8A64"/>
<circle cx="246.80" cy="342.70" r="0.95" fill="#EC8A64"/>
<circle cx="250.20" cy="346.90" r="0.95" fill="#EC8A64"/>
<circle cx="252.70" cy="348.90" r="0.95" fill="#EC8A64"/>
<circle cx="255.20" cy="349.90" r="0.95" fill="#EC8A64"/>
<circle cx="257.70" cy="350.70" r="0.95" fill="#EC8A64"/>
<circle cx="259.40" cy="356.10" r="0.95" fill="#EC8A64"/>
<circle cx="262.80" cy="356.10" r="0.95" fill="#EC8A64"/>
<circle cx="265.30" cy="357.30" r="0.95" fill="#7D8A96"/>
<circle cx="267.80" cy="358.30" r="0.95" fill="#EC8A64"/>
<circle cx="270.30" cy="360.30" r="0.95" fill="#EC8A64"/>
<circle cx="272.80" cy="362.30" r="0.95" fill="#EC8A64"/>
<circle cx="275.40" cy="364.50" r="0.95" fill="#EC8A64"/>
<circle cx="277.90" cy="366.20" r="0.95" fill="#EC8A64"/>
<circle cx="282.10" cy="368.20" r="0.95" fill="#7D8A96"/>
<circle cx="284.60" cy="367.80" r="0.95" fill="#7D8A96"/>
<circle cx="287.10" cy="370.00" r="0.95" fill="#EC8A64"/>
<circle cx="289.60" cy="370.70" r="0.95" fill="#EC8A64"/>
<circle cx="292.10" cy="371.20" r="0.95" fill="#EC8A64"/>
<circle cx="295.50" cy="372.00" r="0.95" fill="#EC8A64"/>
<circle cx="298.90" cy="374.10" r="0.95" fill="#EC8A64"/>
<circle cx="302.20" cy="375.40" r="0.95" fill="#EC8A64"/>
<circle cx="305.60" cy="377.90" r="0.95" fill="#EC8A64"/>
<circle cx="308.90" cy="379.60" r="0.95" fill="#EC8A64"/>
<circle cx="311.50" cy="382.10" r="0.95" fill="#EC8A64"/>
<circle cx="314.00" cy="383.80" r="0.95" fill="#EC8A64"/>
<circle cx="316.50" cy="391.80" r="0.95" fill="#7D8A96"/>
<circle cx="327.70" cy="397.40" r="0.95" fill="#EC8A64"/>
<rect x="370.1" y="258.9" width="133.80" height="138.90" fill="#EBEBEB"/>
<line x1="387.65" y1="258.9" x2="387.65" y2="397.8" stroke="#fff" stroke-width="0.7" stroke-opacity="0.5"/>
<line x1="412.35" y1="258.9" x2="412.35" y2="397.8" stroke="#fff" stroke-width="0.7" stroke-opacity="0.5"/>
<line x1="437.05" y1="258.9" x2="437.05" y2="397.8" stroke="#fff" stroke-width="0.7" stroke-opacity="0.5"/>
<line x1="461.75" y1="258.9" x2="461.75" y2="397.8" stroke="#fff" stroke-width="0.7" stroke-opacity="0.5"/>
<line x1="486.45" y1="258.9" x2="486.45" y2="397.8" stroke="#fff" stroke-width="0.7" stroke-opacity="0.5"/>
<line x1="370.1" y1="399.57" x2="503.9" y2="399.57" stroke="#fff" stroke-width="0.7" stroke-opacity="0.5"/>
<line x1="370.1" y1="373.42" x2="503.9" y2="373.42" stroke="#fff" stroke-width="0.7" stroke-opacity="0.5"/>
<line x1="370.1" y1="347.27" x2="503.9" y2="347.27" stroke="#fff" stroke-width="0.7" stroke-opacity="0.5"/>
<line x1="370.1" y1="321.12" x2="503.9" y2="321.12" stroke="#fff" stroke-width="0.7" stroke-opacity="0.5"/>
<line x1="370.1" y1="294.97" x2="503.9" y2="294.97" stroke="#fff" stroke-width="0.7" stroke-opacity="0.5"/>
<line x1="370.1" y1="268.82" x2="503.9" y2="268.82" stroke="#fff" stroke-width="0.7" stroke-opacity="0.5"/>
<line x1="375.30" y1="258.9" x2="375.30" y2="397.8" stroke="#fff" stroke-width="0.8" stroke-opacity="0.55"/>
<line x1="400.00" y1="258.9" x2="400.00" y2="397.8" stroke="#fff" stroke-width="0.8" stroke-opacity="0.55"/>
<line x1="424.70" y1="258.9" x2="424.70" y2="397.8" stroke="#fff" stroke-width="0.8" stroke-opacity="0.55"/>
<line x1="449.40" y1="258.9" x2="449.40" y2="397.8" stroke="#fff" stroke-width="0.8" stroke-opacity="0.55"/>
<line x1="474.10" y1="258.9" x2="474.10" y2="397.8" stroke="#fff" stroke-width="0.8" stroke-opacity="0.55"/>
<line x1="498.80" y1="258.9" x2="498.80" y2="397.8" stroke="#fff" stroke-width="0.8" stroke-opacity="0.55"/>
<line x1="370.1" y1="386.50" x2="503.9" y2="386.50" stroke="#fff" stroke-width="0.8" stroke-opacity="0.55"/>
<line x1="370.1" y1="360.35" x2="503.9" y2="360.35" stroke="#fff" stroke-width="0.8" stroke-opacity="0.55"/>
<line x1="370.1" y1="334.20" x2="503.9" y2="334.20" stroke="#fff" stroke-width="0.8" stroke-opacity="0.55"/>
<line x1="370.1" y1="308.05" x2="503.9" y2="308.05" stroke="#fff" stroke-width="0.8" stroke-opacity="0.55"/>
<line x1="370.1" y1="281.90" x2="503.9" y2="281.90" stroke="#fff" stroke-width="0.8" stroke-opacity="0.55"/>
<line x1="375.30" y1="397.8" x2="375.30" y2="400.2" stroke="#ccc" stroke-width="0.35"/>
<line x1="400.00" y1="397.8" x2="400.00" y2="400.2" stroke="#ccc" stroke-width="0.35"/>
<line x1="424.70" y1="397.8" x2="424.70" y2="400.2" stroke="#ccc" stroke-width="0.35"/>
<line x1="449.40" y1="397.8" x2="449.40" y2="400.2" stroke="#ccc" stroke-width="0.35"/>
<line x1="474.10" y1="397.8" x2="474.10" y2="400.2" stroke="#ccc" stroke-width="0.35"/>
<line x1="498.80" y1="397.8" x2="498.80" y2="400.2" stroke="#ccc" stroke-width="0.35"/>
<line x1="367.70000000000005" y1="386.50" x2="370.1" y2="386.50" stroke="#ccc" stroke-width="0.35"/>
<line x1="367.70000000000005" y1="360.35" x2="370.1" y2="360.35" stroke="#ccc" stroke-width="0.35"/>
<line x1="367.70000000000005" y1="334.20" x2="370.1" y2="334.20" stroke="#ccc" stroke-width="0.35"/>
<line x1="367.70000000000005" y1="308.05" x2="370.1" y2="308.05" stroke="#ccc" stroke-width="0.35"/>
<line x1="367.70000000000005" y1="281.90" x2="370.1" y2="281.90" stroke="#ccc" stroke-width="0.35"/>
<text x="375.00" y="406.90" font-size="7.6" text-anchor="middle" font-weight="normal" fill="#333"  stroke="#333" stroke-width="0.15">0</text>
<text x="395.50" y="406.90" font-size="7.6" text-anchor="middle" font-weight="normal" fill="#333"  stroke="#333" stroke-width="0.15">50</text>
<text x="420.00" y="406.90" font-size="7.6" text-anchor="middle" font-weight="normal" fill="#333"  stroke="#333" stroke-width="0.15">100</text>
<text x="445.20" y="406.90" font-size="7.6" text-anchor="middle" font-weight="normal" fill="#333"  stroke="#333" stroke-width="0.15">150</text>
<text x="471.80" y="406.90" font-size="7.6" text-anchor="middle" font-weight="normal" fill="#333"  stroke="#333" stroke-width="0.15">200</text>
<text x="498.50" y="406.90" font-size="7.6" text-anchor="middle" font-weight="normal" fill="#333"  stroke="#333" stroke-width="0.15">250</text>
<text x="366.40" y="389.25" font-size="7.6" text-anchor="end" font-weight="normal" fill="#333"  stroke="#333" stroke-width="0.15">6</text>
<text x="366.40" y="363.10" font-size="7.6" text-anchor="end" font-weight="normal" fill="#333"  stroke="#333" stroke-width="0.15">7</text>
<text x="366.40" y="336.95" font-size="7.6" text-anchor="end" font-weight="normal" fill="#333"  stroke="#333" stroke-width="0.15">8</text>
<text x="366.40" y="310.80" font-size="7.6" text-anchor="end" font-weight="normal" fill="#333"  stroke="#333" stroke-width="0.15">9</text>
<text x="366.40" y="284.65" font-size="7.6" text-anchor="end" font-weight="normal" fill="#333"  stroke="#333" stroke-width="0.15">10</text>
<text x="436.50" y="248.80" font-size="9.2" text-anchor="middle" font-weight="normal" fill="#222"  stroke="#222" stroke-width="0.15">UC</text>
<text x="437.50" y="419.60" font-size="9.4" text-anchor="middle" font-weight="normal" fill="#222"  stroke="#222" stroke-width="0.15">Abundance rank</text>
<text transform="translate(352.6,328.5) rotate(-90)" font-size="9.3" text-anchor="middle" fill="#222">Log<tspan font-size="5.3" dy="2.6">10</tspan><tspan dy="-2.6">(abundance)</tspan></text>
<circle cx="376.00" cy="265.00" r="0.85" fill="#C07560"/>
<circle cx="376.50" cy="269.40" r="0.85" fill="#C07560"/>
<circle cx="376.80" cy="275.31" r="0.95" fill="#E98D6B"/>
<circle cx="377.30" cy="276.64" r="0.95" fill="#E98D6B"/>
<circle cx="377.80" cy="277.43" r="0.95" fill="#E98D6B"/>
<circle cx="378.29" cy="279.51" r="0.95" fill="#E98D6B"/>
<circle cx="378.79" cy="279.98" r="0.95" fill="#E98D6B"/>
<circle cx="379.29" cy="285.22" r="0.95" fill="#E98D6B"/>
<circle cx="379.79" cy="286.34" r="0.95" fill="#E98D6B"/>
<circle cx="380.29" cy="287.70" r="0.95" fill="#E98D6B"/>
<circle cx="380.78" cy="288.08" r="0.95" fill="#E98D6B"/>
<circle cx="381.28" cy="290.41" r="0.95" fill="#E98D6B"/>
<circle cx="381.78" cy="292.22" r="0.95" fill="#E98D6B"/>
<circle cx="382.28" cy="294.57" r="0.95" fill="#E98D6B"/>
<circle cx="382.78" cy="296.60" r="0.95" fill="#E98D6B"/>
<circle cx="383.27" cy="297.96" r="0.95" fill="#E98D6B"/>
<circle cx="383.77" cy="300.42" r="0.95" fill="#E98D6B"/>
<circle cx="384.27" cy="301.44" r="0.95" fill="#E98D6B"/>
<circle cx="384.77" cy="302.32" r="0.95" fill="#E98D6B"/>
<circle cx="385.27" cy="304.37" r="0.95" fill="#E98D6B"/>
<circle cx="385.76" cy="304.72" r="0.95" fill="#E98D6B"/>
<circle cx="386.26" cy="306.18" r="0.95" fill="#E98D6B"/>
<circle cx="386.76" cy="307.31" r="0.95" fill="#E98D6B"/>
<circle cx="387.26" cy="307.92" r="0.95" fill="#E98D6B"/>
<circle cx="387.75" cy="308.45" r="0.95" fill="#E98D6B"/>
<circle cx="388.25" cy="309.49" r="0.95" fill="#E98D6B"/>
<circle cx="388.75" cy="310.34" r="0.95" fill="#E98D6B"/>
<circle cx="389.25" cy="311.41" r="0.95" fill="#E98D6B"/>
<circle cx="389.75" cy="311.35" r="0.95" fill="#E98D6B"/>
<circle cx="390.24" cy="312.64" r="0.95" fill="#E98D6B"/>
<circle cx="390.74" cy="313.01" r="0.95" fill="#E98D6B"/>
<circle cx="391.24" cy="313.79" r="0.95" fill="#E98D6B"/>
<circle cx="391.74" cy="315.13" r="0.95" fill="#E98D6B"/>
<circle cx="392.24" cy="315.56" r="0.95" fill="#E98D6B"/>
<circle cx="392.73" cy="316.38" r="0.95" fill="#E98D6B"/>
<circle cx="393.23" cy="316.98" r="0.95" fill="#E98D6B"/>
<circle cx="393.73" cy="317.47" r="0.95" fill="#E98D6B"/>
<circle cx="394.23" cy="317.21" r="0.95" fill="#E98D6B"/>
<circle cx="394.73" cy="317.72" r="0.95" fill="#E98D6B"/>
<circle cx="395.22" cy="317.90" r="0.95" fill="#E98D6B"/>
<circle cx="395.72" cy="318.22" r="0.95" fill="#E98D6B"/>
<circle cx="396.22" cy="318.74" r="0.95" fill="#E98D6B"/>
<circle cx="396.72" cy="318.76" r="0.95" fill="#E98D6B"/>
<circle cx="397.22" cy="319.16" r="0.95" fill="#E98D6B"/>
<circle cx="397.71" cy="319.43" r="0.95" fill="#E98D6B"/>
<circle cx="398.21" cy="320.36" r="0.95" fill="#E98D6B"/>
<circle cx="398.71" cy="320.44" r="0.95" fill="#E98D6B"/>
<circle cx="399.21" cy="321.02" r="0.95" fill="#E98D6B"/>
<circle cx="399.71" cy="321.47" r="0.95" fill="#E98D6B"/>
<circle cx="400.20" cy="321.02" r="0.95" fill="#E98D6B"/>
<circle cx="400.70" cy="321.76" r="0.95" fill="#E98D6B"/>
<circle cx="401.20" cy="322.59" r="0.95" fill="#E98D6B"/>
<circle cx="401.70" cy="322.83" r="0.95" fill="#E98D6B"/>
<circle cx="402.20" cy="322.36" r="0.95" fill="#E98D6B"/>
<circle cx="402.69" cy="322.72" r="0.95" fill="#E98D6B"/>
<circle cx="403.19" cy="323.49" r="0.95" fill="#E98D6B"/>
<circle cx="403.69" cy="323.43" r="0.95" fill="#E98D6B"/>
<circle cx="404.19" cy="324.01" r="0.95" fill="#E98D6B"/>
<circle cx="404.69" cy="324.19" r="0.95" fill="#E98D6B"/>
<circle cx="405.18" cy="325.29" r="0.95" fill="#E98D6B"/>
<circle cx="405.68" cy="325.81" r="0.95" fill="#E98D6B"/>
<circle cx="406.18" cy="326.32" r="0.95" fill="#E98D6B"/>
<circle cx="406.68" cy="325.81" r="0.95" fill="#E98D6B"/>
<circle cx="407.18" cy="326.80" r="0.95" fill="#E98D6B"/>
<circle cx="407.67" cy="326.99" r="0.95" fill="#E98D6B"/>
<circle cx="408.17" cy="326.63" r="0.95" fill="#E98D6B"/>
<circle cx="408.67" cy="327.77" r="0.95" fill="#E98D6B"/>
<circle cx="409.17" cy="328.13" r="0.95" fill="#E98D6B"/>
<circle cx="409.66" cy="327.49" r="0.95" fill="#E98D6B"/>
<circle cx="410.16" cy="328.65" r="0.95" fill="#E98D6B"/>
<circle cx="410.66" cy="328.33" r="0.95" fill="#E98D6B"/>
<circle cx="411.16" cy="328.77" r="0.95" fill="#64AA90"/>
<circle cx="411.66" cy="329.71" r="0.95" fill="#64AA90"/>
<circle cx="412.15" cy="329.86" r="0.95" fill="#64AA90"/>
<circle cx="412.65" cy="329.39" r="0.95" fill="#64AA90"/>
<circle cx="413.15" cy="330.15" r="0.95" fill="#64AA90"/>
<circle cx="413.65" cy="330.71" r="0.95" fill="#64AA90"/>
<circle cx="414.15" cy="330.97" r="0.95" fill="#64AA90"/>
<circle cx="414.64" cy="331.25" r="0.95" fill="#64AA90"/>
<circle cx="415.14" cy="331.84" r="0.95" fill="#64AA90"/>
<circle cx="415.64" cy="332.77" r="0.95" fill="#64AA90"/>
<circle cx="416.14" cy="332.37" r="0.95" fill="#64AA90"/>
<circle cx="416.64" cy="333.45" r="0.95" fill="#E98D6B"/>
<circle cx="417.13" cy="333.76" r="0.95" fill="#E98D6B"/>
<circle cx="417.63" cy="333.69" r="0.95" fill="#E98D6B"/>
<circle cx="418.13" cy="334.49" r="0.95" fill="#E98D6B"/>
<circle cx="418.63" cy="335.19" r="0.95" fill="#E98D6B"/>
<circle cx="419.13" cy="335.41" r="0.95" fill="#E98D6B"/>
<circle cx="419.62" cy="335.22" r="0.95" fill="#E98D6B"/>
<circle cx="420.12" cy="336.68" r="0.95" fill="#64AA90"/>
<circle cx="420.62" cy="336.80" r="0.95" fill="#64AA90"/>
<circle cx="421.12" cy="337.37" r="0.95" fill="#64AA90"/>
<circle cx="421.62" cy="336.68" r="0.95" fill="#64AA90"/>
<circle cx="422.11" cy="337.22" r="0.95" fill="#64AA90"/>
<circle cx="422.61" cy="337.30" r="0.95" fill="#64AA90"/>
<circle cx="423.11" cy="338.54" r="0.95" fill="#E98D6B"/>
<circle cx="423.61" cy="338.18" r="0.95" fill="#E98D6B"/>
<circle cx="424.11" cy="338.27" r="0.95" fill="#E98D6B"/>
<circle cx="424.60" cy="338.87" r="0.95" fill="#E98D6B"/>
<circle cx="425.10" cy="339.71" r="0.95" fill="#E98D6B"/>
<circle cx="425.60" cy="339.85" r="0.95" fill="#E98D6B"/>
<circle cx="426.10" cy="339.43" r="0.95" fill="#64AA90"/>
<circle cx="426.60" cy="339.56" r="0.95" fill="#64AA90"/>
<circle cx="427.09" cy="340.73" r="0.95" fill="#64AA90"/>
<circle cx="427.59" cy="340.57" r="0.95" fill="#64AA90"/>
<circle cx="428.09" cy="340.98" r="0.95" fill="#64AA90"/>
<circle cx="428.59" cy="340.50" r="0.95" fill="#64AA90"/>
<circle cx="429.08" cy="340.72" r="0.95" fill="#64AA90"/>
<circle cx="429.58" cy="341.79" r="0.95" fill="#64AA90"/>
<circle cx="430.08" cy="341.78" r="0.95" fill="#E98D6B"/>
<circle cx="430.58" cy="341.67" r="0.95" fill="#E98D6B"/>
<circle cx="431.08" cy="343.01" r="0.95" fill="#E98D6B"/>
<circle cx="431.57" cy="342.96" r="0.95" fill="#E98D6B"/>
<circle cx="432.07" cy="343.47" r="0.95" fill="#E98D6B"/>
<circle cx="432.57" cy="342.92" r="0.95" fill="#E98D6B"/>
<circle cx="433.07" cy="344.15" r="0.95" fill="#64AA90"/>
<circle cx="433.57" cy="343.51" r="0.95" fill="#64AA90"/>
<circle cx="434.06" cy="344.78" r="0.95" fill="#64AA90"/>
<circle cx="434.56" cy="344.60" r="0.95" fill="#64AA90"/>
<circle cx="435.06" cy="344.70" r="0.95" fill="#64AA90"/>
<circle cx="435.56" cy="345.15" r="0.95" fill="#64AA90"/>
<circle cx="436.06" cy="345.78" r="0.95" fill="#E98D6B"/>
<circle cx="436.55" cy="345.18" r="0.95" fill="#E98D6B"/>
<circle cx="437.05" cy="345.19" r="0.95" fill="#E98D6B"/>
<circle cx="437.55" cy="345.86" r="0.95" fill="#E98D6B"/>
<circle cx="438.05" cy="345.70" r="0.95" fill="#E98D6B"/>
<circle cx="438.55" cy="345.73" r="0.95" fill="#E98D6B"/>
<circle cx="439.04" cy="345.98" r="0.95" fill="#E98D6B"/>
<circle cx="439.54" cy="346.03" r="0.95" fill="#E98D6B"/>
<circle cx="440.04" cy="346.40" r="0.95" fill="#64AA90"/>
<circle cx="440.54" cy="346.71" r="0.95" fill="#64AA90"/>
<circle cx="441.04" cy="346.88" r="0.95" fill="#64AA90"/>
<circle cx="441.53" cy="347.58" r="0.95" fill="#64AA90"/>
<circle cx="442.03" cy="347.18" r="0.95" fill="#64AA90"/>
<circle cx="442.53" cy="347.60" r="0.95" fill="#64AA90"/>
<circle cx="443.03" cy="347.38" r="0.95" fill="#64AA90"/>
<circle cx="443.53" cy="347.74" r="0.95" fill="#64AA90"/>
<circle cx="444.02" cy="347.51" r="0.95" fill="#64AA90"/>
<circle cx="444.52" cy="347.95" r="0.95" fill="#64AA90"/>
<circle cx="445.02" cy="347.83" r="0.95" fill="#64AA90"/>
<circle cx="445.52" cy="348.86" r="0.95" fill="#64AA90"/>
<circle cx="446.02" cy="348.80" r="0.95" fill="#64AA90"/>
<circle cx="446.51" cy="348.54" r="0.95" fill="#64AA90"/>
<circle cx="447.01" cy="349.43" r="0.95" fill="#E98D6B"/>
<circle cx="447.51" cy="350.53" r="0.95" fill="#E98D6B"/>
<circle cx="448.01" cy="350.09" r="0.95" fill="#E98D6B"/>
<circle cx="448.50" cy="351.50" r="0.95" fill="#E98D6B"/>
<circle cx="449.00" cy="351.58" r="0.95" fill="#E98D6B"/>
<circle cx="449.50" cy="352.21" r="0.95" fill="#E98D6B"/>
<circle cx="450.00" cy="353.16" r="0.95" fill="#E98D6B"/>
<circle cx="450.50" cy="353.18" r="0.95" fill="#64AA90"/>
<circle cx="450.99" cy="353.87" r="0.95" fill="#64AA90"/>
<circle cx="451.49" cy="354.63" r="0.95" fill="#64AA90"/>
<circle cx="451.99" cy="355.54" r="0.95" fill="#64AA90"/>
<circle cx="452.49" cy="355.24" r="0.95" fill="#64AA90"/>
<circle cx="452.99" cy="356.15" r="0.95" fill="#64AA90"/>
<circle cx="453.48" cy="356.33" r="0.95" fill="#64AA90"/>
<circle cx="453.98" cy="356.57" r="0.95" fill="#64AA90"/>
<circle cx="454.48" cy="356.62" r="0.95" fill="#E98D6B"/>
<circle cx="454.98" cy="356.88" r="0.95" fill="#E98D6B"/>
<circle cx="455.48" cy="356.86" r="0.95" fill="#E98D6B"/>
<circle cx="455.97" cy="357.28" r="0.95" fill="#E98D6B"/>
<circle cx="456.47" cy="357.53" r="0.95" fill="#E98D6B"/>
<circle cx="456.97" cy="358.74" r="0.95" fill="#E98D6B"/>
<circle cx="457.47" cy="358.61" r="0.95" fill="#E98D6B"/>
<circle cx="457.97" cy="358.96" r="0.95" fill="#E98D6B"/>
<circle cx="458.46" cy="359.32" r="0.95" fill="#E98D6B"/>
<circle cx="458.96" cy="360.69" r="0.95" fill="#E98D6B"/>
<circle cx="459.46" cy="361.18" r="0.95" fill="#64AA90"/>
<circle cx="459.96" cy="361.40" r="0.95" fill="#64AA90"/>
<circle cx="460.46" cy="361.37" r="0.95" fill="#64AA90"/>
<circle cx="460.95" cy="361.57" r="0.95" fill="#64AA90"/>
<circle cx="461.45" cy="361.89" r="0.95" fill="#64AA90"/>
<circle cx="461.95" cy="362.34" r="0.95" fill="#64AA90"/>
<circle cx="462.45" cy="362.24" r="0.95" fill="#64AA90"/>
<circle cx="462.95" cy="362.84" r="0.95" fill="#64AA90"/>
<circle cx="463.44" cy="362.87" r="0.95" fill="#64AA90"/>
<circle cx="463.94" cy="363.97" r="0.95" fill="#64AA90"/>
<circle cx="464.44" cy="364.23" r="0.95" fill="#64AA90"/>
<circle cx="464.94" cy="363.99" r="0.95" fill="#64AA90"/>
<circle cx="465.44" cy="363.90" r="0.95" fill="#E98D6B"/>
<circle cx="465.93" cy="365.05" r="0.95" fill="#E98D6B"/>
<circle cx="466.43" cy="364.54" r="0.95" fill="#E98D6B"/>
<circle cx="466.93" cy="364.87" r="0.95" fill="#E98D6B"/>
<circle cx="467.43" cy="364.72" r="0.95" fill="#E98D6B"/>
<circle cx="467.93" cy="365.46" r="0.95" fill="#E98D6B"/>
<circle cx="468.42" cy="365.85" r="0.95" fill="#64AA90"/>
<circle cx="468.92" cy="366.16" r="0.95" fill="#64AA90"/>
<circle cx="469.42" cy="366.07" r="0.95" fill="#64AA90"/>
<circle cx="469.92" cy="366.72" r="0.95" fill="#64AA90"/>
<circle cx="470.41" cy="366.45" r="0.95" fill="#64AA90"/>
<circle cx="470.91" cy="367.10" r="0.95" fill="#64AA90"/>
<circle cx="471.41" cy="367.23" r="0.95" fill="#E98D6B"/>
<circle cx="471.91" cy="367.93" r="0.95" fill="#E98D6B"/>
<circle cx="472.41" cy="367.84" r="0.95" fill="#E98D6B"/>
<circle cx="472.90" cy="368.15" r="0.95" fill="#E98D6B"/>
<circle cx="473.40" cy="368.83" r="0.95" fill="#E98D6B"/>
<circle cx="473.90" cy="369.08" r="0.95" fill="#E98D6B"/>
<circle cx="474.40" cy="369.86" r="0.95" fill="#E98D6B"/>
<circle cx="474.90" cy="370.20" r="0.95" fill="#E98D6B"/>
<circle cx="475.39" cy="370.87" r="0.95" fill="#E98D6B"/>
<circle cx="475.89" cy="371.16" r="0.95" fill="#E98D6B"/>
<circle cx="476.39" cy="371.64" r="0.95" fill="#64AA90"/>
<circle cx="476.89" cy="372.23" r="0.95" fill="#64AA90"/>
<circle cx="477.39" cy="372.05" r="0.95" fill="#64AA90"/>
<circle cx="477.88" cy="372.38" r="0.95" fill="#64AA90"/>
<circle cx="478.38" cy="373.82" r="0.95" fill="#64AA90"/>
<circle cx="478.88" cy="373.47" r="0.95" fill="#64AA90"/>
<circle cx="479.38" cy="374.82" r="0.95" fill="#E98D6B"/>
<circle cx="479.88" cy="375.38" r="0.95" fill="#E98D6B"/>
<circle cx="480.37" cy="375.12" r="0.95" fill="#E98D6B"/>
<circle cx="480.87" cy="376.38" r="0.95" fill="#E98D6B"/>
<circle cx="481.37" cy="376.76" r="0.95" fill="#E98D6B"/>
<circle cx="481.87" cy="376.75" r="0.95" fill="#E98D6B"/>
<circle cx="482.37" cy="377.19" r="0.95" fill="#E98D6B"/>
<circle cx="482.86" cy="377.59" r="0.95" fill="#E98D6B"/>
<circle cx="483.36" cy="377.09" r="0.95" fill="#E98D6B"/>
<circle cx="483.86" cy="377.86" r="0.95" fill="#E98D6B"/>
<circle cx="484.36" cy="378.15" r="0.95" fill="#E98D6B"/>
<circle cx="484.86" cy="378.85" r="0.95" fill="#E98D6B"/>
<circle cx="485.35" cy="379.13" r="0.95" fill="#E98D6B"/>
<circle cx="485.85" cy="379.46" r="0.95" fill="#E98D6B"/>
<circle cx="486.35" cy="379.48" r="0.95" fill="#E98D6B"/>
<circle cx="486.85" cy="380.17" r="0.95" fill="#E98D6B"/>
<circle cx="487.35" cy="380.23" r="0.95" fill="#E98D6B"/>
<circle cx="487.84" cy="380.55" r="0.95" fill="#E98D6B"/>
<circle cx="488.34" cy="380.31" r="0.95" fill="#E98D6B"/>
<circle cx="488.84" cy="380.38" r="0.95" fill="#E98D6B"/>
<circle cx="489.34" cy="380.82" r="0.95" fill="#E98D6B"/>
<circle cx="489.83" cy="381.40" r="0.95" fill="#E98D6B"/>
<circle cx="490.33" cy="381.41" r="0.95" fill="#E98D6B"/>
<circle cx="490.83" cy="382.60" r="0.95" fill="#E98D6B"/>
<circle cx="491.33" cy="382.57" r="0.95" fill="#E98D6B"/>
<circle cx="491.83" cy="382.99" r="0.95" fill="#E98D6B"/>
<circle cx="492.32" cy="383.59" r="0.95" fill="#E98D6B"/>
<circle cx="492.82" cy="384.27" r="0.95" fill="#E98D6B"/>
<circle cx="493.32" cy="384.65" r="0.95" fill="#64AA90"/>
<circle cx="493.82" cy="384.67" r="0.95" fill="#64AA90"/>
<circle cx="494.32" cy="386.23" r="0.95" fill="#64AA90"/>
<circle cx="494.81" cy="386.78" r="0.95" fill="#64AA90"/>
<circle cx="495.31" cy="387.10" r="0.95" fill="#64AA90"/>
<circle cx="495.81" cy="387.81" r="0.95" fill="#64AA90"/>
<circle cx="496.31" cy="388.64" r="0.95" fill="#64AA90"/>
<circle cx="496.81" cy="388.62" r="0.95" fill="#64AA90"/>
<circle cx="497.30" cy="390.11" r="0.95" fill="#64AA90"/>
<circle cx="497.80" cy="390.22" r="0.95" fill="#64AA90"/>
<circle cx="498.30" cy="390.69" r="0.95" fill="#64AA90"/>
<rect x="545.6" y="258.9" width="134.40" height="138.90" fill="#EBEBEB"/>
<line x1="572.20" y1="258.9" x2="572.20" y2="397.8" stroke="#fff" stroke-width="0.7" stroke-opacity="0.5"/>
<line x1="613.60" y1="258.9" x2="613.60" y2="397.8" stroke="#fff" stroke-width="0.7" stroke-opacity="0.5"/>
<line x1="655.00" y1="258.9" x2="655.00" y2="397.8" stroke="#fff" stroke-width="0.7" stroke-opacity="0.5"/>
<line x1="545.6" y1="392.25" x2="680.0" y2="392.25" stroke="#fff" stroke-width="0.7" stroke-opacity="0.5"/>
<line x1="545.6" y1="369.15" x2="680.0" y2="369.15" stroke="#fff" stroke-width="0.7" stroke-opacity="0.5"/>
<line x1="545.6" y1="346.05" x2="680.0" y2="346.05" stroke="#fff" stroke-width="0.7" stroke-opacity="0.5"/>
<line x1="545.6" y1="322.95" x2="680.0" y2="322.95" stroke="#fff" stroke-width="0.7" stroke-opacity="0.5"/>
<line x1="545.6" y1="299.85" x2="680.0" y2="299.85" stroke="#fff" stroke-width="0.7" stroke-opacity="0.5"/>
<line x1="545.6" y1="276.75" x2="680.0" y2="276.75" stroke="#fff" stroke-width="0.7" stroke-opacity="0.5"/>
<line x1="551.50" y1="258.9" x2="551.50" y2="397.8" stroke="#fff" stroke-width="0.8" stroke-opacity="0.55"/>
<line x1="592.90" y1="258.9" x2="592.90" y2="397.8" stroke="#fff" stroke-width="0.8" stroke-opacity="0.55"/>
<line x1="634.30" y1="258.9" x2="634.30" y2="397.8" stroke="#fff" stroke-width="0.8" stroke-opacity="0.55"/>
<line x1="675.70" y1="258.9" x2="675.70" y2="397.8" stroke="#fff" stroke-width="0.8" stroke-opacity="0.55"/>
<line x1="545.6" y1="380.70" x2="680.0" y2="380.70" stroke="#fff" stroke-width="0.8" stroke-opacity="0.55"/>
<line x1="545.6" y1="357.60" x2="680.0" y2="357.60" stroke="#fff" stroke-width="0.8" stroke-opacity="0.55"/>
<line x1="545.6" y1="334.50" x2="680.0" y2="334.50" stroke="#fff" stroke-width="0.8" stroke-opacity="0.55"/>
<line x1="545.6" y1="311.40" x2="680.0" y2="311.40" stroke="#fff" stroke-width="0.8" stroke-opacity="0.55"/>
<line x1="545.6" y1="288.30" x2="680.0" y2="288.30" stroke="#fff" stroke-width="0.8" stroke-opacity="0.55"/>
<line x1="545.6" y1="265.20" x2="680.0" y2="265.20" stroke="#fff" stroke-width="0.8" stroke-opacity="0.55"/>
<line x1="551.50" y1="397.8" x2="551.50" y2="400.2" stroke="#ccc" stroke-width="0.35"/>
<line x1="592.90" y1="397.8" x2="592.90" y2="400.2" stroke="#ccc" stroke-width="0.35"/>
<line x1="634.30" y1="397.8" x2="634.30" y2="400.2" stroke="#ccc" stroke-width="0.35"/>
<line x1="675.70" y1="397.8" x2="675.70" y2="400.2" stroke="#ccc" stroke-width="0.35"/>
<line x1="543.2" y1="380.70" x2="545.6" y2="380.70" stroke="#ccc" stroke-width="0.35"/>
<line x1="543.2" y1="357.60" x2="545.6" y2="357.60" stroke="#ccc" stroke-width="0.35"/>
<line x1="543.2" y1="334.50" x2="545.6" y2="334.50" stroke="#ccc" stroke-width="0.35"/>
<line x1="543.2" y1="311.40" x2="545.6" y2="311.40" stroke="#ccc" stroke-width="0.35"/>
<line x1="543.2" y1="288.30" x2="545.6" y2="288.30" stroke="#ccc" stroke-width="0.35"/>
<line x1="543.2" y1="265.20" x2="545.6" y2="265.20" stroke="#ccc" stroke-width="0.35"/>
<text x="551.30" y="406.90" font-size="7.6" text-anchor="middle" font-weight="normal" fill="#333"  stroke="#333" stroke-width="0.15">0</text>
<text x="591.90" y="406.90" font-size="7.6" text-anchor="middle" font-weight="normal" fill="#333"  stroke="#333" stroke-width="0.15">100</text>
<text x="635.40" y="406.90" font-size="7.6" text-anchor="middle" font-weight="normal" fill="#333"  stroke="#333" stroke-width="0.15">200</text>
<text x="674.60" y="406.90" font-size="7.6" text-anchor="middle" font-weight="normal" fill="#333"  stroke="#333" stroke-width="0.15">300</text>
<text x="539.80" y="383.45" font-size="7.6" text-anchor="end" font-weight="normal" fill="#333"  stroke="#333" stroke-width="0.15">6</text>
<text x="539.80" y="360.35" font-size="7.6" text-anchor="end" font-weight="normal" fill="#333"  stroke="#333" stroke-width="0.15">7</text>
<text x="539.80" y="337.25" font-size="7.6" text-anchor="end" font-weight="normal" fill="#333"  stroke="#333" stroke-width="0.15">8</text>
<text x="539.80" y="314.15" font-size="7.6" text-anchor="end" font-weight="normal" fill="#333"  stroke="#333" stroke-width="0.15">9</text>
<text x="539.80" y="291.05" font-size="7.6" text-anchor="end" font-weight="normal" fill="#333"  stroke="#333" stroke-width="0.15">10</text>
<text x="539.80" y="267.95" font-size="7.6" text-anchor="end" font-weight="normal" fill="#333"  stroke="#333" stroke-width="0.15">11</text>
<text x="611.80" y="248.80" font-size="9.2" text-anchor="middle" font-weight="normal" fill="#222"  stroke="#222" stroke-width="0.15">SEC</text>
<text x="613.30" y="419.60" font-size="9.4" text-anchor="middle" font-weight="normal" fill="#222"  stroke="#222" stroke-width="0.15">Abundance rank</text>
<text transform="translate(530.8,328.5) rotate(-90)" font-size="9.3" text-anchor="middle" fill="#222">Log<tspan font-size="5.3" dy="2.6">10</tspan><tspan dy="-2.6">(abundance)</tspan></text>
<circle cx="551.80" cy="265.40" r="1.0" fill="#B87462"/>
<circle cx="552.40" cy="272.10" r="1.0" fill="#B87462"/>
<circle cx="552.20" cy="283.62" r="0.95" fill="#E98D6B"/>
<circle cx="552.61" cy="285.06" r="0.95" fill="#E98D6B"/>
<circle cx="553.03" cy="285.31" r="0.95" fill="#E98D6B"/>
<circle cx="553.44" cy="286.84" r="0.95" fill="#E98D6B"/>
<circle cx="553.85" cy="288.20" r="0.95" fill="#E98D6B"/>
<circle cx="554.26" cy="288.83" r="0.95" fill="#E98D6B"/>
<circle cx="554.68" cy="289.90" r="0.95" fill="#E98D6B"/>
<circle cx="555.09" cy="291.50" r="0.95" fill="#E98D6B"/>
<circle cx="555.50" cy="293.36" r="0.95" fill="#E98D6B"/>
<circle cx="555.91" cy="295.08" r="0.95" fill="#E98D6B"/>
<circle cx="556.33" cy="296.68" r="0.95" fill="#E98D6B"/>
<circle cx="556.74" cy="298.53" r="0.95" fill="#E98D6B"/>
<circle cx="557.15" cy="299.67" r="0.95" fill="#E98D6B"/>
<circle cx="557.56" cy="300.87" r="0.95" fill="#E98D6B"/>
<circle cx="557.98" cy="302.02" r="0.95" fill="#E98D6B"/>
<circle cx="558.39" cy="303.63" r="0.95" fill="#E98D6B"/>
<circle cx="558.80" cy="304.12" r="0.95" fill="#E98D6B"/>
<circle cx="559.21" cy="305.39" r="0.95" fill="#E98D6B"/>
<circle cx="559.63" cy="305.67" r="0.95" fill="#E98D6B"/>
<circle cx="560.04" cy="306.67" r="0.95" fill="#E98D6B"/>
<circle cx="560.45" cy="307.86" r="0.95" fill="#E98D6B"/>
<circle cx="560.86" cy="309.28" r="0.95" fill="#E98D6B"/>
<circle cx="561.28" cy="310.24" r="0.95" fill="#E98D6B"/>
<circle cx="561.69" cy="311.16" r="0.95" fill="#E98D6B"/>
<circle cx="562.10" cy="311.64" r="0.95" fill="#E98D6B"/>
<circle cx="562.51" cy="312.85" r="0.95" fill="#E98D6B"/>
<circle cx="562.93" cy="313.66" r="0.95" fill="#E98D6B"/>
<circle cx="563.34" cy="314.54" r="0.95" fill="#E98D6B"/>
<circle cx="563.75" cy="314.99" r="0.95" fill="#64AA90"/>
<circle cx="564.16" cy="316.80" r="0.95" fill="#64AA90"/>
<circle cx="564.58" cy="316.40" r="0.95" fill="#64AA90"/>
<circle cx="564.99" cy="317.73" r="0.95" fill="#64AA90"/>
<circle cx="565.40" cy="318.07" r="0.95" fill="#E98D6B"/>
<circle cx="565.81" cy="317.37" r="0.95" fill="#E98D6B"/>
<circle cx="566.23" cy="318.29" r="0.95" fill="#E98D6B"/>
<circle cx="566.64" cy="319.14" r="0.95" fill="#E98D6B"/>
<circle cx="567.05" cy="319.94" r="0.95" fill="#E98D6B"/>
<circle cx="567.46" cy="319.94" r="0.95" fill="#E98D6B"/>
<circle cx="567.88" cy="320.34" r="0.95" fill="#E98D6B"/>
<circle cx="568.29" cy="320.89" r="0.95" fill="#E98D6B"/>
<circle cx="568.70" cy="322.39" r="0.95" fill="#E98D6B"/>
<circle cx="569.11" cy="322.07" r="0.95" fill="#E98D6B"/>
<circle cx="569.53" cy="322.92" r="0.95" fill="#E98D6B"/>
<circle cx="569.94" cy="322.81" r="0.95" fill="#E98D6B"/>
<circle cx="570.35" cy="323.68" r="0.95" fill="#E98D6B"/>
<circle cx="570.76" cy="324.61" r="0.95" fill="#E98D6B"/>
<circle cx="571.18" cy="324.04" r="0.95" fill="#E98D6B"/>
<circle cx="571.59" cy="325.27" r="0.95" fill="#E98D6B"/>
<circle cx="572.00" cy="325.31" r="0.95" fill="#E98D6B"/>
<circle cx="572.41" cy="326.18" r="0.95" fill="#E98D6B"/>
<circle cx="572.83" cy="326.16" r="0.95" fill="#E98D6B"/>
<circle cx="573.24" cy="325.74" r="0.95" fill="#E98D6B"/>
<circle cx="573.65" cy="326.69" r="0.95" fill="#E98D6B"/>
<circle cx="574.06" cy="326.35" r="0.95" fill="#E98D6B"/>
<circle cx="574.48" cy="325.94" r="0.95" fill="#E98D6B"/>
<circle cx="574.89" cy="326.06" r="0.95" fill="#E98D6B"/>
<circle cx="575.30" cy="326.96" r="0.95" fill="#E98D6B"/>
<circle cx="575.72" cy="327.28" r="0.95" fill="#64AA90"/>
<circle cx="576.13" cy="327.46" r="0.95" fill="#64AA90"/>
<circle cx="576.54" cy="327.59" r="0.95" fill="#64AA90"/>
<circle cx="576.95" cy="328.15" r="0.95" fill="#64AA90"/>
<circle cx="577.37" cy="328.43" r="0.95" fill="#E98D6B"/>
<circle cx="577.78" cy="329.38" r="0.95" fill="#E98D6B"/>
<circle cx="578.19" cy="328.69" r="0.95" fill="#E98D6B"/>
<circle cx="578.60" cy="330.19" r="0.95" fill="#E98D6B"/>
<circle cx="579.02" cy="330.90" r="0.95" fill="#E98D6B"/>
<circle cx="579.43" cy="330.63" r="0.95" fill="#E98D6B"/>
<circle cx="579.84" cy="332.20" r="0.95" fill="#E98D6B"/>
<circle cx="580.25" cy="332.55" r="0.95" fill="#E98D6B"/>
<circle cx="580.67" cy="333.49" r="0.95" fill="#E98D6B"/>
<circle cx="581.08" cy="334.04" r="0.95" fill="#E98D6B"/>
<circle cx="581.49" cy="335.19" r="0.95" fill="#E98D6B"/>
<circle cx="581.90" cy="335.42" r="0.95" fill="#E98D6B"/>
<circle cx="582.32" cy="336.36" r="0.95" fill="#E98D6B"/>
<circle cx="582.73" cy="336.07" r="0.95" fill="#E98D6B"/>
<circle cx="583.14" cy="336.00" r="0.95" fill="#E98D6B"/>
<circle cx="583.55" cy="336.29" r="0.95" fill="#64AA90"/>
<circle cx="583.97" cy="336.31" r="0.95" fill="#64AA90"/>
<circle cx="584.38" cy="336.25" r="0.95" fill="#64AA90"/>
<circle cx="584.79" cy="336.52" r="0.95" fill="#64AA90"/>
<circle cx="585.20" cy="337.60" r="0.95" fill="#64AA90"/>
<circle cx="585.62" cy="337.15" r="0.95" fill="#64AA90"/>
<circle cx="586.03" cy="338.14" r="0.95" fill="#64AA90"/>
<circle cx="586.44" cy="337.61" r="0.95" fill="#64AA90"/>
<circle cx="586.85" cy="337.98" r="0.95" fill="#64AA90"/>
<circle cx="587.27" cy="338.63" r="0.95" fill="#64AA90"/>
<circle cx="587.68" cy="338.60" r="0.95" fill="#64AA90"/>
<circle cx="588.09" cy="339.18" r="0.95" fill="#64AA90"/>
<circle cx="588.50" cy="340.23" r="0.95" fill="#64AA90"/>
<circle cx="588.92" cy="340.50" r="0.95" fill="#64AA90"/>
<circle cx="589.33" cy="340.77" r="0.95" fill="#64AA90"/>
<circle cx="589.74" cy="340.91" r="0.95" fill="#64AA90"/>
<circle cx="590.15" cy="341.60" r="0.95" fill="#64AA90"/>
<circle cx="590.57" cy="341.99" r="0.95" fill="#64AA90"/>
<circle cx="590.98" cy="341.88" r="0.95" fill="#64AA90"/>
<circle cx="591.39" cy="342.44" r="0.95" fill="#64AA90"/>
<circle cx="591.80" cy="341.99" r="0.95" fill="#64AA90"/>
<circle cx="592.22" cy="343.16" r="0.95" fill="#64AA90"/>
<circle cx="592.63" cy="343.18" r="0.95" fill="#64AA90"/>
<circle cx="593.04" cy="343.75" r="0.95" fill="#64AA90"/>
<circle cx="593.45" cy="343.79" r="0.95" fill="#64AA90"/>
<circle cx="593.87" cy="343.54" r="0.95" fill="#64AA90"/>
<circle cx="594.28" cy="343.43" r="0.95" fill="#64AA90"/>
<circle cx="594.69" cy="344.65" r="0.95" fill="#64AA90"/>
<circle cx="595.10" cy="343.87" r="0.95" fill="#64AA90"/>
<circle cx="595.52" cy="344.46" r="0.95" fill="#64AA90"/>
<circle cx="595.93" cy="344.47" r="0.95" fill="#64AA90"/>
<circle cx="596.34" cy="344.59" r="0.95" fill="#64AA90"/>
<circle cx="596.75" cy="345.30" r="0.95" fill="#64AA90"/>
<circle cx="597.17" cy="345.76" r="0.95" fill="#64AA90"/>
<circle cx="597.58" cy="345.07" r="0.95" fill="#64AA90"/>
<circle cx="597.99" cy="345.72" r="0.95" fill="#64AA90"/>
<circle cx="598.41" cy="345.47" r="0.95" fill="#64AA90"/>
<circle cx="598.82" cy="345.95" r="0.95" fill="#64AA90"/>
<circle cx="599.23" cy="345.92" r="0.95" fill="#64AA90"/>
<circle cx="599.64" cy="345.80" r="0.95" fill="#64AA90"/>
<circle cx="600.06" cy="345.94" r="0.95" fill="#64AA90"/>
<circle cx="600.47" cy="346.15" r="0.95" fill="#64AA90"/>
<circle cx="600.88" cy="347.13" r="0.95" fill="#64AA90"/>
<circle cx="601.29" cy="346.79" r="0.95" fill="#64AA90"/>
<circle cx="601.71" cy="346.61" r="0.95" fill="#64AA90"/>
<circle cx="602.12" cy="347.58" r="0.95" fill="#64AA90"/>
<circle cx="602.53" cy="347.84" r="0.95" fill="#64AA90"/>
<circle cx="602.94" cy="347.33" r="0.95" fill="#64AA90"/>
<circle cx="603.36" cy="347.11" r="0.95" fill="#64AA90"/>
<circle cx="603.77" cy="347.32" r="0.95" fill="#64AA90"/>
<circle cx="604.18" cy="347.35" r="0.95" fill="#64AA90"/>
<circle cx="604.59" cy="347.80" r="0.95" fill="#64AA90"/>
<circle cx="605.01" cy="347.65" r="0.95" fill="#64AA90"/>
<circle cx="605.42" cy="347.98" r="0.95" fill="#64AA90"/>
<circle cx="605.83" cy="348.15" r="0.95" fill="#64AA90"/>
<circle cx="606.24" cy="348.67" r="0.95" fill="#64AA90"/>
<circle cx="606.66" cy="349.20" r="0.95" fill="#64AA90"/>
<circle cx="607.07" cy="349.19" r="0.95" fill="#64AA90"/>
<circle cx="607.48" cy="349.08" r="0.95" fill="#64AA90"/>
<circle cx="607.89" cy="349.39" r="0.95" fill="#64AA90"/>
<circle cx="608.31" cy="349.83" r="0.95" fill="#64AA90"/>
<circle cx="608.72" cy="349.97" r="0.95" fill="#64AA90"/>
<circle cx="609.13" cy="350.23" r="0.95" fill="#64AA90"/>
<circle cx="609.54" cy="350.21" r="0.95" fill="#64AA90"/>
<circle cx="609.96" cy="350.78" r="0.95" fill="#64AA90"/>
<circle cx="610.37" cy="351.91" r="0.95" fill="#64AA90"/>
<circle cx="610.78" cy="351.21" r="0.95" fill="#64AA90"/>
<circle cx="611.19" cy="351.97" r="0.95" fill="#64AA90"/>
<circle cx="611.61" cy="352.44" r="0.95" fill="#64AA90"/>
<circle cx="612.02" cy="353.02" r="0.95" fill="#E98D6B"/>
<circle cx="612.43" cy="352.56" r="0.95" fill="#E98D6B"/>
<circle cx="612.84" cy="352.93" r="0.95" fill="#E98D6B"/>
<circle cx="613.26" cy="353.22" r="0.95" fill="#E98D6B"/>
<circle cx="613.67" cy="353.65" r="0.95" fill="#E98D6B"/>
<circle cx="614.08" cy="353.86" r="0.95" fill="#E98D6B"/>
<circle cx="614.49" cy="354.64" r="0.95" fill="#E98D6B"/>
<circle cx="614.91" cy="354.67" r="0.95" fill="#E98D6B"/>
<circle cx="615.32" cy="354.87" r="0.95" fill="#E98D6B"/>
<circle cx="615.73" cy="354.01" r="0.95" fill="#E98D6B"/>
<circle cx="616.14" cy="354.18" r="0.95" fill="#64AA90"/>
<circle cx="616.56" cy="355.16" r="0.95" fill="#64AA90"/>
<circle cx="616.97" cy="355.55" r="0.95" fill="#64AA90"/>
<circle cx="617.38" cy="355.20" r="0.95" fill="#64AA90"/>
<circle cx="617.79" cy="355.50" r="0.95" fill="#64AA90"/>
<circle cx="618.21" cy="354.96" r="0.95" fill="#64AA90"/>
<circle cx="618.62" cy="355.59" r="0.95" fill="#64AA90"/>
<circle cx="619.03" cy="356.40" r="0.95" fill="#64AA90"/>
<circle cx="619.44" cy="356.44" r="0.95" fill="#64AA90"/>
<circle cx="619.86" cy="356.64" r="0.95" fill="#64AA90"/>
<circle cx="620.27" cy="356.94" r="0.95" fill="#64AA90"/>
<circle cx="620.68" cy="356.24" r="0.95" fill="#64AA90"/>
<circle cx="621.09" cy="356.23" r="0.95" fill="#64AA90"/>
<circle cx="621.51" cy="356.45" r="0.95" fill="#64AA90"/>
<circle cx="621.92" cy="357.09" r="0.95" fill="#64AA90"/>
<circle cx="622.33" cy="357.49" r="0.95" fill="#64AA90"/>
<circle cx="622.75" cy="358.02" r="0.95" fill="#64AA90"/>
<circle cx="623.16" cy="357.96" r="0.95" fill="#64AA90"/>
<circle cx="623.57" cy="358.09" r="0.95" fill="#64AA90"/>
<circle cx="623.98" cy="358.44" r="0.95" fill="#64AA90"/>
<circle cx="624.40" cy="358.28" r="0.95" fill="#64AA90"/>
<circle cx="624.81" cy="358.61" r="0.95" fill="#64AA90"/>
<circle cx="625.22" cy="358.20" r="0.95" fill="#E98D6B"/>
<circle cx="625.63" cy="359.31" r="0.95" fill="#E98D6B"/>
<circle cx="626.05" cy="358.86" r="0.95" fill="#E98D6B"/>
<circle cx="626.46" cy="359.89" r="0.95" fill="#E98D6B"/>
<circle cx="626.87" cy="359.78" r="0.95" fill="#E98D6B"/>
<circle cx="627.28" cy="359.58" r="0.95" fill="#E98D6B"/>
<circle cx="627.70" cy="359.58" r="0.95" fill="#E98D6B"/>
<circle cx="628.11" cy="359.94" r="0.95" fill="#E98D6B"/>
<circle cx="628.52" cy="360.61" r="0.95" fill="#E98D6B"/>
<circle cx="628.93" cy="360.90" r="0.95" fill="#E98D6B"/>
<circle cx="629.35" cy="360.40" r="0.95" fill="#E98D6B"/>
<circle cx="629.76" cy="360.55" r="0.95" fill="#E98D6B"/>
<circle cx="630.17" cy="361.26" r="0.95" fill="#E98D6B"/>
<circle cx="630.58" cy="361.49" r="0.95" fill="#E98D6B"/>
<circle cx="631.00" cy="361.42" r="0.95" fill="#E98D6B"/>
<circle cx="631.41" cy="361.39" r="0.95" fill="#E98D6B"/>
<circle cx="631.82" cy="362.01" r="0.95" fill="#E98D6B"/>
<circle cx="632.23" cy="361.47" r="0.95" fill="#64AA90"/>
<circle cx="632.65" cy="361.98" r="0.95" fill="#64AA90"/>
<circle cx="633.06" cy="362.34" r="0.95" fill="#64AA90"/>
<circle cx="633.47" cy="363.10" r="0.95" fill="#64AA90"/>
<circle cx="633.88" cy="362.89" r="0.95" fill="#64AA90"/>
<circle cx="634.30" cy="363.34" r="0.95" fill="#E98D6B"/>
<circle cx="634.71" cy="363.01" r="0.95" fill="#E98D6B"/>
<circle cx="635.12" cy="362.89" r="0.95" fill="#E98D6B"/>
<circle cx="635.53" cy="363.07" r="0.95" fill="#E98D6B"/>
<circle cx="635.95" cy="364.09" r="0.95" fill="#E98D6B"/>
<circle cx="636.36" cy="363.95" r="0.95" fill="#E98D6B"/>
<circle cx="636.77" cy="363.64" r="0.95" fill="#E98D6B"/>
<circle cx="637.18" cy="363.46" r="0.95" fill="#E98D6B"/>
<circle cx="637.60" cy="364.20" r="0.95" fill="#E98D6B"/>
<circle cx="638.01" cy="364.61" r="0.95" fill="#E98D6B"/>
<circle cx="638.42" cy="364.51" r="0.95" fill="#E98D6B"/>
<circle cx="638.83" cy="364.52" r="0.95" fill="#E98D6B"/>
<circle cx="639.25" cy="365.21" r="0.95" fill="#E98D6B"/>
<circle cx="639.66" cy="365.72" r="0.95" fill="#E98D6B"/>
<circle cx="640.07" cy="365.09" r="0.95" fill="#E98D6B"/>
<circle cx="640.48" cy="365.06" r="0.95" fill="#E98D6B"/>
<circle cx="640.90" cy="365.63" r="0.95" fill="#E98D6B"/>
<circle cx="641.31" cy="365.93" r="0.95" fill="#E98D6B"/>
<circle cx="641.72" cy="366.45" r="0.95" fill="#E98D6B"/>
<circle cx="642.13" cy="366.07" r="0.95" fill="#E98D6B"/>
<circle cx="642.55" cy="366.99" r="0.95" fill="#E98D6B"/>
<circle cx="642.96" cy="367.13" r="0.95" fill="#E98D6B"/>
<circle cx="643.37" cy="367.05" r="0.95" fill="#E98D6B"/>
<circle cx="643.78" cy="366.89" r="0.95" fill="#E98D6B"/>
<circle cx="644.20" cy="368.06" r="0.95" fill="#E98D6B"/>
<circle cx="644.61" cy="367.68" r="0.95" fill="#E98D6B"/>
<circle cx="645.02" cy="368.71" r="0.95" fill="#E98D6B"/>
<circle cx="645.44" cy="368.41" r="0.95" fill="#E98D6B"/>
<circle cx="645.85" cy="368.81" r="0.95" fill="#E98D6B"/>
<circle cx="646.26" cy="369.87" r="0.95" fill="#E98D6B"/>
<circle cx="646.67" cy="369.73" r="0.95" fill="#E98D6B"/>
<circle cx="647.09" cy="370.93" r="0.95" fill="#E98D6B"/>
<circle cx="647.50" cy="370.79" r="0.95" fill="#E98D6B"/>
<circle cx="647.91" cy="370.84" r="0.95" fill="#E98D6B"/>
<circle cx="648.32" cy="371.29" r="0.95" fill="#E98D6B"/>
<circle cx="648.74" cy="371.94" r="0.95" fill="#E98D6B"/>
<circle cx="649.15" cy="372.49" r="0.95" fill="#E98D6B"/>
<circle cx="649.56" cy="372.99" r="0.95" fill="#E98D6B"/>
<circle cx="649.97" cy="372.18" r="0.95" fill="#E98D6B"/>
<circle cx="650.39" cy="372.63" r="0.95" fill="#E98D6B"/>
<circle cx="650.80" cy="372.57" r="0.95" fill="#E98D6B"/>
<circle cx="651.21" cy="373.64" r="0.95" fill="#64AA90"/>
<circle cx="651.62" cy="372.79" r="0.95" fill="#64AA90"/>
<circle cx="652.04" cy="372.84" r="0.95" fill="#64AA90"/>
<circle cx="652.45" cy="373.00" r="0.95" fill="#64AA90"/>
<circle cx="652.86" cy="373.56" r="0.95" fill="#64AA90"/>
<circle cx="653.27" cy="374.32" r="0.95" fill="#64AA90"/>
<circle cx="653.69" cy="374.46" r="0.95" fill="#64AA90"/>
<circle cx="654.10" cy="374.43" r="0.95" fill="#64AA90"/>
<circle cx="654.51" cy="374.90" r="0.95" fill="#64AA90"/>
<circle cx="654.92" cy="374.98" r="0.95" fill="#64AA90"/>
<circle cx="655.34" cy="374.42" r="0.95" fill="#64AA90"/>
<circle cx="655.75" cy="374.52" r="0.95" fill="#64AA90"/>
<circle cx="656.16" cy="375.70" r="0.95" fill="#64AA90"/>
<circle cx="656.57" cy="375.74" r="0.95" fill="#64AA90"/>
<circle cx="656.99" cy="375.16" r="0.95" fill="#64AA90"/>
<circle cx="657.40" cy="376.20" r="0.95" fill="#64AA90"/>
<circle cx="657.81" cy="376.13" r="0.95" fill="#64AA90"/>
<circle cx="658.22" cy="376.40" r="0.95" fill="#E98D6B"/>
<circle cx="658.64" cy="376.62" r="0.95" fill="#E98D6B"/>
<circle cx="659.05" cy="376.70" r="0.95" fill="#E98D6B"/>
<circle cx="659.46" cy="376.78" r="0.95" fill="#E98D6B"/>
<circle cx="659.87" cy="377.39" r="0.95" fill="#E98D6B"/>
<circle cx="660.29" cy="377.81" r="0.95" fill="#E98D6B"/>
<circle cx="660.70" cy="378.95" r="0.95" fill="#E98D6B"/>
<circle cx="661.11" cy="378.36" r="0.95" fill="#E98D6B"/>
<circle cx="661.52" cy="379.78" r="0.95" fill="#E98D6B"/>
<circle cx="661.94" cy="379.29" r="0.95" fill="#E98D6B"/>
<circle cx="662.35" cy="379.88" r="0.95" fill="#E98D6B"/>
<circle cx="662.76" cy="380.85" r="0.95" fill="#E98D6B"/>
<circle cx="663.17" cy="381.26" r="0.95" fill="#E98D6B"/>
<circle cx="663.59" cy="381.21" r="0.95" fill="#E98D6B"/>
<circle cx="664.00" cy="381.16" r="0.95" fill="#E98D6B"/>
<circle cx="664.41" cy="382.16" r="0.95" fill="#E98D6B"/>
<circle cx="664.82" cy="382.55" r="0.95" fill="#E98D6B"/>
<circle cx="665.24" cy="383.73" r="0.95" fill="#E98D6B"/>
<circle cx="665.65" cy="383.37" r="0.95" fill="#E98D6B"/>
<circle cx="666.06" cy="384.09" r="0.95" fill="#E98D6B"/>
<circle cx="666.47" cy="385.25" r="0.95" fill="#E98D6B"/>
<circle cx="666.89" cy="384.72" r="0.95" fill="#7D8A96"/>
<circle cx="667.30" cy="385.69" r="0.95" fill="#7D8A96"/>
<circle cx="667.80" cy="391.90" r="0.85" fill="#7D8A96"/>
<circle cx="673.80" cy="397.20" r="0.85" fill="#7D8A96"/>
<rect x="188.1" y="428.7" width="11.9" height="11.8" fill="#8A9CCB" stroke="#4b5570" stroke-width="0.75"/>
<text x="206.60" y="437.90" font-size="9.5" text-anchor="start" font-weight="normal" fill="#222"  stroke="#222" stroke-width="0.15">EV only</text>
<rect x="276.4" y="428.7" width="11.9" height="11.8" fill="#EE8660" stroke="#7a4030" stroke-width="0.75"/>
<text x="295.80" y="437.90" font-size="9.5" text-anchor="start" font-weight="normal" fill="#222"  stroke="#222" stroke-width="0.15">EV &amp; plasma</text>
<rect x="377.5" y="428.7" width="11.9" height="11.8" fill="#5FB999" stroke="#2f6a55" stroke-width="0.75"/>
<text x="396.70" y="437.90" font-size="9.5" text-anchor="start" font-weight="normal" fill="#222"  stroke="#222" stroke-width="0.15">Plasma only</text>
<rect x="476.0" y="428.7" width="11.9" height="11.8" fill="#D887C0" stroke="#7a4068" stroke-width="0.75"/>
<text x="495.90" y="437.90" font-size="9.5" text-anchor="start" font-weight="normal" fill="#222"  stroke="#222" stroke-width="0.15">Others</text>
<text x="6.30" y="457.60" font-size="13" text-anchor="start" font-weight="bold" fill="#000" >c</text>
<circle cx="123.6" cy="594.5" r="83.5" fill="#73C941" fill-opacity="0.5"/>
<circle cx="96.5" cy="560.0" r="74.9" fill="#EB5591" fill-opacity="0.5"/>
<circle cx="123.3" cy="536.4" r="76.5" fill="#4B5FB9" fill-opacity="0.5"/>
<circle cx="180.7" cy="581.0" r="47.4" fill="#E1DD2D" fill-opacity="0.5"/>
<text x="179.00" y="471.20" font-size="9.4" text-anchor="middle" font-weight="normal" fill="#222"  stroke="#222" stroke-width="0.15">Gel</text>
<text x="224.40" y="539.30" font-size="9.3" text-anchor="middle" font-weight="normal" fill="#222"  stroke="#222" stroke-width="0.15">DGUC</text>
<text x="29.30" y="507.10" font-size="9.4" text-anchor="middle" font-weight="normal" fill="#222"  stroke="#222" stroke-width="0.15">UC</text>
<text x="180.00" y="676.30" font-size="9.4" text-anchor="middle" font-weight="normal" fill="#222"  stroke="#222" stroke-width="0.15">SEC</text>
<text x="148.90" y="483.80" font-size="8.5" text-anchor="middle" font-weight="normal" fill="#111"  stroke="#111" stroke-width="0.15">13</text>
<text x="79.00" y="508.70" font-size="8.5" text-anchor="middle" font-weight="normal" fill="#111"  stroke="#111" stroke-width="0.15">23</text>
<text x="36.40" y="554.10" font-size="8.5" text-anchor="middle" font-weight="normal" fill="#111"  stroke="#111" stroke-width="0.15">11</text>
<text x="108.00" y="563.90" font-size="8.5" text-anchor="middle" font-weight="normal" fill="#111"  stroke="#111" stroke-width="0.15">74</text>
<text x="169.80" y="532.70" font-size="8.5" text-anchor="middle" font-weight="normal" fill="#111"  stroke="#111" stroke-width="0.15">3</text>
<text x="194.00" y="545.50" font-size="8.5" text-anchor="middle" font-weight="normal" fill="#111"  stroke="#111" stroke-width="0.15">1</text>
<text x="179.00" y="567.10" font-size="8.5" text-anchor="middle" font-weight="normal" fill="#111"  stroke="#111" stroke-width="0.15">2</text>
<text x="213.50" y="569.60" font-size="8.5" text-anchor="middle" font-weight="normal" fill="#111"  stroke="#111" stroke-width="0.15">9</text>
<text x="150.00" y="579.60" font-size="8.5" text-anchor="middle" font-weight="normal" fill="#111"  stroke="#111" stroke-width="0.15">25</text>
<text x="186.80" y="608.60" font-size="8.5" text-anchor="middle" font-weight="normal" fill="#111"  stroke="#111" stroke-width="0.15">19</text>
<text x="77.90" y="615.30" font-size="8.5" text-anchor="middle" font-weight="normal" fill="#111"  stroke="#111" stroke-width="0.15">7</text>
<text x="144.50" y="614.00" font-size="8.5" text-anchor="middle" font-weight="normal" fill="#111"  stroke="#111" stroke-width="0.15">1</text>
<text x="123.40" y="649.50" font-size="8.5" text-anchor="middle" font-weight="normal" fill="#111"  stroke="#111" stroke-width="0.15">37</text>
<text x="291.30" y="457.20" font-size="13" text-anchor="start" font-weight="bold" fill="#000" >d</text>
<line x1="331.9" y1="474.80" x2="331.9" y2="639.7" stroke="#2a2a2a" stroke-width="1.3"/>
<line x1="331.29999999999995" y1="639.1" x2="577" y2="639.1" stroke="#2a2a2a" stroke-width="1.3"/>
<line x1="323.9" y1="639.10" x2="331.9" y2="639.10" stroke="#2a2a2a" stroke-width="1.2"/>
<text x="321.20" y="642.30" font-size="9" text-anchor="end" font-weight="normal" fill="#222"  stroke="#222" stroke-width="0.15">0</text>
<line x1="323.9" y1="598.18" x2="331.9" y2="598.18" stroke="#2a2a2a" stroke-width="1.2"/>
<text x="321.20" y="601.38" font-size="9" text-anchor="end" font-weight="normal" fill="#222"  stroke="#222" stroke-width="0.15">50</text>
<line x1="323.9" y1="557.25" x2="331.9" y2="557.25" stroke="#2a2a2a" stroke-width="1.2"/>
<text x="321.20" y="560.45" font-size="9" text-anchor="end" font-weight="normal" fill="#222"  stroke="#222" stroke-width="0.15">100</text>
<line x1="323.9" y1="516.33" x2="331.9" y2="516.33" stroke="#2a2a2a" stroke-width="1.2"/>
<text x="321.20" y="519.53" font-size="9" text-anchor="end" font-weight="normal" fill="#222"  stroke="#222" stroke-width="0.15">150</text>
<line x1="323.9" y1="475.40" x2="331.9" y2="475.40" stroke="#2a2a2a" stroke-width="1.2"/>
<text x="321.20" y="478.60" font-size="9" text-anchor="end" font-weight="normal" fill="#222"  stroke="#222" stroke-width="0.15">200</text>
<text transform="translate(298.5,560.7) rotate(-90)" font-size="9" text-anchor="middle" fill="#222">Count [a.u.]</text>
<line x1="361.0" y1="639.1" x2="361.0" y2="646.6" stroke="#2a2a2a" stroke-width="1.2"/>
<text x="361.00" y="657.80" font-size="9.4" text-anchor="middle" font-weight="normal" fill="#222"  stroke="#222" stroke-width="0.15">EV only</text>
<rect x="336.70" y="634.19" width="9" height="4.91" fill="#5A5AF0"/>
<text x="341.20" y="628.99" font-size="7.7" text-anchor="middle" font-weight="normal" fill="#222"  stroke="#222" stroke-width="0.15">6</text>
<rect x="350.00" y="636.64" width="9" height="2.46" fill="#E5DF3C"/>
<text x="354.50" y="631.44" font-size="7.7" text-anchor="middle" font-weight="normal" fill="#222"  stroke="#222" stroke-width="0.15">3</text>
<rect x="363.30" y="635.01" width="9" height="4.09" fill="#D81E26"/>
<text x="367.80" y="629.81" font-size="7.7" text-anchor="middle" font-weight="normal" fill="#222"  stroke="#222" stroke-width="0.15">5</text>
<rect x="376.60" y="632.55" width="9" height="6.55" fill="#15A090"/>
<text x="381.10" y="627.35" font-size="7.7" text-anchor="middle" font-weight="normal" fill="#222"  stroke="#222" stroke-width="0.15">8</text>
<line x1="423.4" y1="639.1" x2="423.4" y2="646.6" stroke="#2a2a2a" stroke-width="1.2"/>
<text x="423.40" y="657.80" font-size="9.4" text-anchor="middle" font-weight="normal" fill="#222"  stroke="#222" stroke-width="0.15">EV &amp; plasma</text>
<rect x="399.10" y="527.78" width="9" height="111.32" fill="#5A5AF0"/>
<text x="403.60" y="522.58" font-size="7.7" text-anchor="middle" font-weight="normal" fill="#222"  stroke="#222" stroke-width="0.15">136</text>
<rect x="412.40" y="594.90" width="9" height="44.20" fill="#E5DF3C"/>
<text x="416.90" y="589.70" font-size="7.7" text-anchor="middle" font-weight="normal" fill="#222"  stroke="#222" stroke-width="0.15">54</text>
<rect x="425.70" y="528.60" width="9" height="110.50" fill="#EB4B96"/>
<text x="430.20" y="523.40" font-size="7.7" text-anchor="middle" font-weight="normal" fill="#222"  stroke="#222" stroke-width="0.15">135</text>
<rect x="439.00" y="508.96" width="9" height="130.14" fill="#15A090"/>
<text x="443.50" y="503.76" font-size="7.7" text-anchor="middle" font-weight="normal" fill="#222"  stroke="#222" stroke-width="0.15">159</text>
<line x1="485.8" y1="639.1" x2="485.8" y2="646.6" stroke="#2a2a2a" stroke-width="1.2"/>
<text x="485.80" y="657.80" font-size="9.4" text-anchor="middle" font-weight="normal" fill="#222"  stroke="#222" stroke-width="0.15">Plasma only</text>
<rect x="461.50" y="572.80" width="9" height="66.30" fill="#5A5AF0"/>
<text x="466.00" y="567.60" font-size="7.7" text-anchor="middle" font-weight="normal" fill="#222"  stroke="#222" stroke-width="0.15">81</text>
<rect x="474.80" y="634.19" width="9" height="4.91" fill="#E5DF3C"/>
<text x="479.30" y="628.99" font-size="7.7" text-anchor="middle" font-weight="normal" fill="#222"  stroke="#222" stroke-width="0.15">6</text>
<rect x="488.10" y="563.80" width="9" height="75.30" fill="#EB4B96"/>
<text x="492.60" y="558.60" font-size="7.7" text-anchor="middle" font-weight="normal" fill="#222"  stroke="#222" stroke-width="0.15">92</text>
<rect x="501.40" y="563.80" width="9" height="75.30" fill="#15A090"/>
<text x="505.90" y="558.60" font-size="7.7" text-anchor="middle" font-weight="normal" fill="#222"  stroke="#222" stroke-width="0.15">92</text>
<line x1="548.2" y1="639.1" x2="548.2" y2="646.6" stroke="#2a2a2a" stroke-width="1.2"/>
<text x="552.40" y="657.80" font-size="9.4" text-anchor="middle" font-weight="normal" fill="#222"  stroke="#222" stroke-width="0.15">Others</text>
<rect x="523.90" y="624.37" width="9" height="14.73" fill="#5A5AF0"/>
<text x="528.40" y="619.17" font-size="7.7" text-anchor="middle" font-weight="normal" fill="#222"  stroke="#222" stroke-width="0.15">18</text>
<rect x="537.20" y="636.64" width="9" height="2.46" fill="#E5DF3C"/>
<text x="541.70" y="631.44" font-size="7.7" text-anchor="middle" font-weight="normal" fill="#222"  stroke="#222" stroke-width="0.15">3</text>
<rect x="550.50" y="631.73" width="9" height="7.37" fill="#EB4B96"/>
<text x="555.00" y="626.53" font-size="7.7" text-anchor="middle" font-weight="normal" fill="#222"  stroke="#222" stroke-width="0.15">9</text>
<rect x="563.80" y="630.10" width="9" height="9.00" fill="#15A090"/>
<text x="568.30" y="624.90" font-size="7.7" text-anchor="middle" font-weight="normal" fill="#222"  stroke="#222" stroke-width="0.15">11</text>
<rect x="527.9" y="479.50" width="20.8" height="7" fill="#5A5AF0"/>
<text x="557.90" y="486.30" font-size="9.2" text-anchor="start" font-weight="normal" fill="#222"  stroke="#222" stroke-width="0.15">Gel</text>
<rect x="527.9" y="496.30" width="20.8" height="7" fill="#E5DF3C"/>
<text x="557.90" y="503.10" font-size="9.2" text-anchor="start" font-weight="normal" fill="#222"  stroke="#222" stroke-width="0.15">DGUC</text>
<rect x="527.9" y="515.10" width="20.8" height="7" fill="#EB4B96"/>
<text x="557.90" y="521.90" font-size="9.2" text-anchor="start" font-weight="normal" fill="#222"  stroke="#222" stroke-width="0.15">UC</text>
<rect x="527.9" y="533.10" width="20.8" height="7" fill="#15A090"/>
<text x="557.90" y="539.90" font-size="9.2" text-anchor="start" font-weight="normal" fill="#222"  stroke="#222" stroke-width="0.15">SEC</text>
</svg></body></html>
